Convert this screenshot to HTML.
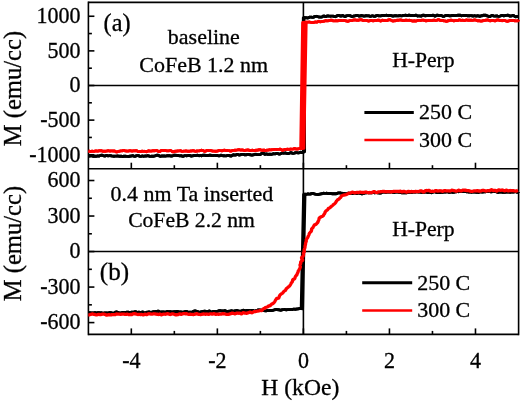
<!DOCTYPE html>
<html><head><meta charset="utf-8"><title>M-H loops</title>
<style>
html,body{margin:0;padding:0;background:#fff;}
body{width:520px;height:401px;overflow:hidden;}
svg{display:block;filter:blur(0.3px);}
text{font-family:"Liberation Serif","Times New Roman",serif;fill:#000;stroke:#000;stroke-width:0.3px;}
</style></head>
<body>
<svg width="520" height="401" viewBox="0 0 520 401">
<rect width="520" height="401" fill="#fff"/>
<g id="axes">
<line x1="88.40" y1="2.40" x2="518.60" y2="2.40" stroke="#000" stroke-width="1.6"/>
<line x1="88.40" y1="168.70" x2="518.60" y2="168.70" stroke="#000" stroke-width="1.6"/>
<line x1="88.40" y1="334.40" x2="518.60" y2="334.40" stroke="#000" stroke-width="1.6"/>
<line x1="88.40" y1="1.60" x2="88.40" y2="335.20" stroke="#000" stroke-width="1.6"/>
<line x1="518.60" y1="1.60" x2="518.60" y2="335.20" stroke="#000" stroke-width="1.6"/>
<line x1="88.40" y1="85.50" x2="518.60" y2="85.50" stroke="#000" stroke-width="1.6"/>
<line x1="88.40" y1="251.55" x2="518.60" y2="251.55" stroke="#000" stroke-width="1.6"/>
<line x1="303.40" y1="2.40" x2="303.40" y2="334.40" stroke="#000" stroke-width="1.6"/>
<line x1="131.32" y1="168.70" x2="131.32" y2="162.70" stroke="#000" stroke-width="1.6"/>
<line x1="131.32" y1="334.40" x2="131.32" y2="328.40" stroke="#000" stroke-width="1.6"/>
<line x1="174.34" y1="168.70" x2="174.34" y2="165.20" stroke="#000" stroke-width="1.6"/>
<line x1="174.34" y1="334.40" x2="174.34" y2="330.90" stroke="#000" stroke-width="1.6"/>
<line x1="217.36" y1="168.70" x2="217.36" y2="162.70" stroke="#000" stroke-width="1.6"/>
<line x1="217.36" y1="334.40" x2="217.36" y2="328.40" stroke="#000" stroke-width="1.6"/>
<line x1="260.38" y1="168.70" x2="260.38" y2="165.20" stroke="#000" stroke-width="1.6"/>
<line x1="260.38" y1="334.40" x2="260.38" y2="330.90" stroke="#000" stroke-width="1.6"/>
<line x1="303.40" y1="168.70" x2="303.40" y2="162.70" stroke="#000" stroke-width="1.6"/>
<line x1="303.40" y1="334.40" x2="303.40" y2="328.40" stroke="#000" stroke-width="1.6"/>
<line x1="346.42" y1="168.70" x2="346.42" y2="165.20" stroke="#000" stroke-width="1.6"/>
<line x1="346.42" y1="334.40" x2="346.42" y2="330.90" stroke="#000" stroke-width="1.6"/>
<line x1="389.44" y1="168.70" x2="389.44" y2="162.70" stroke="#000" stroke-width="1.6"/>
<line x1="389.44" y1="334.40" x2="389.44" y2="328.40" stroke="#000" stroke-width="1.6"/>
<line x1="432.46" y1="168.70" x2="432.46" y2="165.20" stroke="#000" stroke-width="1.6"/>
<line x1="432.46" y1="334.40" x2="432.46" y2="330.90" stroke="#000" stroke-width="1.6"/>
<line x1="475.48" y1="168.70" x2="475.48" y2="162.70" stroke="#000" stroke-width="1.6"/>
<line x1="475.48" y1="334.40" x2="475.48" y2="328.40" stroke="#000" stroke-width="1.6"/>
<line x1="88.40" y1="154.75" x2="94.40" y2="154.75" stroke="#000" stroke-width="1.6"/>
<line x1="88.40" y1="137.44" x2="91.90" y2="137.44" stroke="#000" stroke-width="1.6"/>
<line x1="88.40" y1="120.12" x2="94.40" y2="120.12" stroke="#000" stroke-width="1.6"/>
<line x1="88.40" y1="102.81" x2="91.90" y2="102.81" stroke="#000" stroke-width="1.6"/>
<line x1="88.40" y1="85.50" x2="94.40" y2="85.50" stroke="#000" stroke-width="1.6"/>
<line x1="88.40" y1="68.19" x2="91.90" y2="68.19" stroke="#000" stroke-width="1.6"/>
<line x1="88.40" y1="50.88" x2="94.40" y2="50.88" stroke="#000" stroke-width="1.6"/>
<line x1="88.40" y1="33.56" x2="91.90" y2="33.56" stroke="#000" stroke-width="1.6"/>
<line x1="88.40" y1="16.25" x2="94.40" y2="16.25" stroke="#000" stroke-width="1.6"/>
<line x1="88.40" y1="322.59" x2="94.40" y2="322.59" stroke="#000" stroke-width="1.6"/>
<line x1="88.40" y1="304.83" x2="91.90" y2="304.83" stroke="#000" stroke-width="1.6"/>
<line x1="88.40" y1="287.07" x2="94.40" y2="287.07" stroke="#000" stroke-width="1.6"/>
<line x1="88.40" y1="269.31" x2="91.90" y2="269.31" stroke="#000" stroke-width="1.6"/>
<line x1="88.40" y1="251.55" x2="94.40" y2="251.55" stroke="#000" stroke-width="1.6"/>
<line x1="88.40" y1="233.79" x2="91.90" y2="233.79" stroke="#000" stroke-width="1.6"/>
<line x1="88.40" y1="216.03" x2="94.40" y2="216.03" stroke="#000" stroke-width="1.6"/>
<line x1="88.40" y1="198.27" x2="91.90" y2="198.27" stroke="#000" stroke-width="1.6"/>
<line x1="88.40" y1="180.51" x2="94.40" y2="180.51" stroke="#000" stroke-width="1.6"/>
</g>
<g id="curves">
<polyline points="88.40,156.24 89.10,156.17 89.80,156.00 90.50,155.83 91.20,155.78 91.90,155.92 92.60,156.20 93.30,156.35 94.00,156.23 94.70,156.15 95.40,156.25 96.10,156.29 96.80,156.15 97.50,156.04 98.20,156.07 98.90,156.03 99.60,155.77 100.30,155.48 101.00,155.26 101.70,155.19 102.40,155.30 103.10,155.53 103.80,155.77 104.50,155.99 105.20,156.00 105.90,155.71 106.60,155.47 107.30,155.60 108.00,155.85 108.70,155.84 109.40,155.68 110.10,155.61 110.80,155.69 111.50,155.90 112.20,156.09 112.90,156.14 113.60,156.19 114.30,156.23 115.00,156.15 115.70,156.10 116.40,156.08 117.10,155.99 117.80,155.96 118.50,156.12 119.20,156.21 119.90,156.15 120.60,156.18 121.30,156.26 122.00,156.42 122.70,156.58 123.40,156.43 124.10,156.14 124.80,156.11 125.50,156.23 126.20,156.29 126.90,156.33 127.60,156.41 128.30,156.51 129.00,156.47 129.70,156.24 130.40,156.06 131.10,155.95 131.80,155.83 132.50,155.72 133.20,155.80 133.90,156.09 134.60,156.34 135.30,156.23 136.00,155.90 136.70,155.74 137.40,155.68 138.10,155.59 138.80,155.73 139.50,156.11 140.20,156.40 140.90,156.35 141.60,156.11 142.30,156.01 143.00,156.15 143.70,156.26 144.40,156.15 145.10,156.04 145.80,156.02 146.50,155.95 147.20,155.79 147.90,155.71 148.60,155.83 149.30,156.08 150.00,156.33 150.70,156.37 151.40,156.28 152.10,156.22 152.80,156.22 153.50,156.25 154.20,156.18 154.90,155.97 155.60,155.73 156.30,155.48 157.00,155.20 157.70,155.12 158.40,155.34 159.10,155.72 159.80,156.13 160.50,156.29 161.20,156.05 161.90,155.86 162.60,155.94 163.30,156.02 164.00,156.00 164.70,156.02 165.40,156.08 166.10,155.98 166.80,155.78 167.50,155.71 168.20,155.68 168.90,155.65 169.60,155.70 170.30,155.85 171.00,156.02 171.70,156.03 172.40,155.86 173.10,155.63 173.80,155.36 174.50,155.15 175.20,155.19 175.90,155.31 176.60,155.37 177.30,155.45 178.00,155.54 178.70,155.66 179.40,155.79 180.10,155.85 180.80,155.78 181.50,155.81 182.20,156.11 182.90,156.25 183.60,156.03 184.30,155.75 185.00,155.62 185.70,155.67 186.40,155.77 187.10,155.71 187.80,155.55 188.50,155.39 189.20,155.34 189.90,155.52 190.60,155.83 191.30,156.00 192.00,155.97 192.70,155.77 193.40,155.54 194.10,155.45 194.80,155.47 195.50,155.50 196.20,155.45 196.90,155.31 197.60,155.26 198.30,155.48 199.00,155.69 199.70,155.60 200.40,155.53 201.10,155.70 201.80,155.73 202.50,155.47 203.20,155.24 203.90,155.14 204.60,155.21 205.30,155.46 206.00,155.60 206.70,155.55 207.40,155.49 208.10,155.48 208.80,155.40 209.50,155.24 210.20,155.13 210.90,155.28 211.60,155.54 212.30,155.61 213.00,155.56 213.70,155.46 214.40,155.37 215.10,155.41 215.80,155.48 216.50,155.48 217.20,155.51 217.90,155.68 218.60,155.86 219.30,155.83 220.00,155.55 220.70,155.25 221.40,155.24 222.10,155.53 222.80,155.71 223.50,155.70 224.20,155.73 224.90,155.83 225.60,155.85 226.30,155.75 227.00,155.62 227.70,155.51 228.40,155.42 229.10,155.52 229.80,155.75 230.50,155.98 231.20,156.04 231.90,155.67 232.60,155.07 233.30,154.80 234.00,154.88 234.70,154.99 235.40,155.04 236.10,154.89 236.80,154.53 237.50,154.43 238.20,154.71 238.90,154.95 239.60,154.95 240.30,154.79 241.00,154.55 241.70,154.42 242.40,154.41 243.10,154.39 243.80,154.48 244.50,154.74 245.20,154.91 245.90,154.81 246.60,154.56 247.30,154.37 248.00,154.33 248.70,154.42 249.40,154.57 250.10,154.71 250.80,154.92 251.50,155.15 252.20,155.14 252.90,154.92 253.60,154.80 254.30,154.68 255.00,154.45 255.70,154.29 256.40,154.41 257.10,154.62 257.80,154.67 258.50,154.63 259.20,154.66 259.90,154.61 260.60,154.23 261.30,153.74 262.00,153.39 262.70,153.13 263.40,153.20 264.10,153.77 264.80,154.26 265.50,154.22 266.20,153.97 266.90,154.02 267.60,154.27 268.30,154.33 269.00,154.23 269.70,154.17 270.40,154.24 271.10,154.32 271.80,154.24 272.50,154.00 273.20,153.81 273.90,153.79 274.60,153.83 275.30,153.76 276.00,153.59 276.70,153.50 277.40,153.51 278.10,153.71 278.80,154.04 279.50,154.12 280.20,153.91 280.90,153.64 281.60,153.27 282.30,152.97 283.00,153.04 283.70,153.19 284.40,153.13 285.10,153.00 285.80,153.05 286.50,153.28 287.20,153.46 287.90,153.47 288.60,153.43 289.30,153.31 290.00,152.98 290.70,152.67 291.40,152.74 292.10,153.15 292.80,153.42 293.50,153.38 294.20,153.18 294.90,152.95 295.60,152.75 296.30,152.62 297.00,152.63 297.70,152.81 298.40,152.95 299.10,152.81 299.80,152.48 300.50,152.28 301.20,152.39 301.90,152.61 302.60,152.56 303.30,152.25 303.30,17.76 303.80,17.60 304.50,17.56 305.20,17.67 305.90,17.77 306.60,17.82 307.30,17.93 308.00,17.89 308.70,17.58 309.40,17.30 310.10,17.18 310.80,17.08 311.50,17.09 312.20,17.32 312.90,17.42 313.60,17.13 314.30,16.74 315.00,16.53 315.70,16.41 316.40,16.32 317.10,16.41 317.80,16.64 318.50,16.82 319.20,17.03 319.90,17.15 320.60,17.09 321.30,17.06 322.00,16.94 322.70,16.54 323.40,16.11 324.10,16.03 324.80,16.35 325.50,16.65 326.20,16.51 326.90,16.08 327.60,15.85 328.30,15.92 329.00,16.07 329.70,16.16 330.40,16.20 331.10,16.17 331.80,16.11 332.50,16.10 333.20,16.16 333.90,16.31 334.60,16.56 335.30,16.70 336.00,16.47 336.70,16.02 337.40,15.66 338.10,15.48 338.80,15.38 339.50,15.57 340.20,15.99 340.90,16.12 341.60,15.83 342.30,15.55 343.00,15.59 343.70,15.94 344.40,16.40 345.10,16.59 345.80,16.27 346.50,15.79 347.20,15.59 347.90,15.64 348.60,15.66 349.30,15.63 350.00,15.68 350.70,15.91 351.40,16.28 352.10,16.50 352.80,16.41 353.50,16.18 354.20,16.02 354.90,15.89 355.60,15.71 356.30,15.50 357.00,15.35 357.70,15.47 358.40,15.79 359.10,16.00 359.80,16.03 360.50,15.86 361.20,15.57 361.90,15.55 362.60,15.78 363.30,15.97 364.00,16.06 364.70,16.06 365.40,15.85 366.10,15.59 366.80,15.63 367.50,15.84 368.20,15.83 368.90,15.82 369.60,16.10 370.30,16.34 371.00,16.27 371.70,15.97 372.40,15.78 373.10,15.98 373.80,16.32 374.50,16.41 375.20,16.23 375.90,15.91 376.60,15.59 377.30,15.44 378.00,15.59 378.70,15.78 379.40,15.87 380.10,15.93 380.80,15.83 381.50,15.59 382.20,15.49 382.90,15.54 383.60,15.56 384.30,15.50 385.00,15.41 385.70,15.34 386.40,15.27 387.10,15.35 387.80,15.59 388.50,15.68 389.20,15.54 389.90,15.46 390.60,15.47 391.30,15.59 392.00,15.81 392.70,15.98 393.40,16.02 394.10,15.90 394.80,15.78 395.50,15.70 396.20,15.71 396.90,15.82 397.60,15.91 398.30,15.88 399.00,15.71 399.70,15.57 400.40,15.66 401.10,15.84 401.80,15.85 402.50,15.65 403.20,15.43 403.90,15.37 404.60,15.37 405.30,15.25 406.00,15.25 406.70,15.51 407.40,15.61 408.10,15.36 408.80,15.16 409.50,15.18 410.20,15.33 410.90,15.47 411.60,15.50 412.30,15.56 413.00,15.66 413.70,15.67 414.40,15.55 415.10,15.31 415.80,15.16 416.50,15.40 417.20,15.81 417.90,15.96 418.60,15.90 419.30,15.88 420.00,15.96 420.70,16.08 421.40,15.99 422.10,15.54 422.80,15.12 423.50,15.08 424.20,15.37 424.90,15.74 425.60,15.78 426.30,15.50 427.00,15.36 427.70,15.50 428.40,15.53 429.10,15.36 429.80,15.40 430.50,15.59 431.20,15.66 431.90,15.51 432.60,15.31 433.30,15.27 434.00,15.57 434.70,15.98 435.40,16.02 436.10,15.65 436.80,15.25 437.50,15.12 438.20,15.32 438.90,15.58 439.60,15.65 440.30,15.57 441.00,15.52 441.70,15.69 442.40,16.05 443.10,16.39 443.80,16.40 444.50,16.03 445.20,15.67 445.90,15.53 446.60,15.47 447.30,15.45 448.00,15.49 448.70,15.60 449.40,15.76 450.10,15.85 450.80,15.80 451.50,15.63 452.20,15.45 452.90,15.39 453.60,15.47 454.30,15.61 455.00,15.67 455.70,15.58 456.40,15.43 457.10,15.34 457.80,15.29 458.50,15.27 459.20,15.22 459.90,15.25 460.60,15.48 461.30,15.69 462.00,15.69 462.70,15.58 463.40,15.47 464.10,15.43 464.80,15.47 465.50,15.54 466.20,15.55 466.90,15.57 467.60,15.70 468.30,15.79 469.00,15.77 469.70,15.72 470.40,15.64 471.10,15.61 471.80,15.76 472.50,15.95 473.20,15.99 473.90,15.89 474.60,15.78 475.30,15.84 476.00,16.00 476.70,15.99 477.40,15.80 478.10,15.73 478.80,16.01 479.50,16.31 480.20,16.27 480.90,15.95 481.60,15.73 482.30,15.68 483.00,15.48 483.70,15.24 484.40,15.20 485.10,15.18 485.80,15.27 486.50,15.62 487.20,15.96 487.90,16.12 488.60,16.34 489.30,16.60 490.00,16.53 490.70,16.12 491.40,15.68 492.10,15.48 492.80,15.60 493.50,15.89 494.20,16.08 494.90,16.13 495.60,16.06 496.30,15.94 497.00,16.00 497.70,16.21 498.40,16.37 499.10,16.37 499.80,16.19 500.50,15.97 501.20,15.73 501.90,15.49 502.60,15.48 503.30,15.73 504.00,15.86 504.70,15.70 505.40,15.48 506.10,15.41 506.80,15.36 507.50,15.21 508.20,15.23 508.90,15.60 509.60,16.00 510.30,16.06 511.00,15.95 511.70,15.86 512.40,15.65 513.10,15.45 513.80,15.68 514.50,16.16 515.20,16.56 515.90,16.75 516.60,16.68 517.30,16.48 518.00,16.39 518.60,16.43" fill="none" stroke="#000" stroke-width="2.9" stroke-linejoin="round" stroke-linecap="butt"/>
<polyline points="88.40,156.24 89.10,156.17 89.80,156.00 90.50,155.83 91.20,155.78 91.90,155.92 92.60,156.20 93.30,156.35 94.00,156.23 94.70,156.15 95.40,156.25 96.10,156.29 96.80,156.15 97.50,156.04 98.20,156.07 98.90,156.03 99.60,155.77 100.30,155.48 101.00,155.26 101.70,155.19 102.40,155.30 103.10,155.53 103.80,155.77 104.50,155.99 105.20,156.00 105.90,155.71 106.60,155.47 107.30,155.60 108.00,155.85 108.70,155.84 109.40,155.68 110.10,155.61 110.80,155.69 111.50,155.90 112.20,156.09 112.90,156.14 113.60,156.19 114.30,156.23 115.00,156.15 115.70,156.10 116.40,156.08 117.10,155.99 117.80,155.96 118.50,156.12 119.20,156.21 119.90,156.15 120.60,156.18 121.30,156.26 122.00,156.42 122.70,156.58 123.40,156.43 124.10,156.14 124.80,156.11 125.50,156.23 126.20,156.29 126.90,156.33 127.60,156.41 128.30,156.51 129.00,156.47 129.70,156.24 130.40,156.06 131.10,155.95 131.80,155.83 132.50,155.72 133.20,155.80 133.90,156.09 134.60,156.34 135.30,156.23 136.00,155.90 136.70,155.74 137.40,155.68 138.10,155.59 138.80,155.73 139.50,156.11 140.20,156.40 140.90,156.35 141.60,156.11 142.30,156.01 143.00,156.15 143.70,156.26 144.40,156.15 145.10,156.04 145.80,156.02 146.50,155.95 147.20,155.79 147.90,155.71 148.60,155.83 149.30,156.08 150.00,156.33 150.70,156.37 151.40,156.28 152.10,156.22 152.80,156.22 153.50,156.25 154.20,156.18 154.90,155.97 155.60,155.73 156.30,155.48 157.00,155.20 157.70,155.12 158.40,155.34 159.10,155.72 159.80,156.13 160.50,156.29 161.20,156.05 161.90,155.86 162.60,155.94 163.30,156.02 164.00,156.00 164.70,156.02 165.40,156.08 166.10,155.98 166.80,155.78 167.50,155.71 168.20,155.68 168.90,155.65 169.60,155.70 170.30,155.85 171.00,156.02 171.70,156.03 172.40,155.86 173.10,155.63 173.80,155.36 174.50,155.15 175.20,155.19 175.90,155.31 176.60,155.37 177.30,155.45 178.00,155.54 178.70,155.66 179.40,155.79 180.10,155.85 180.80,155.78 181.50,155.81 182.20,156.11 182.90,156.25 183.60,156.03 184.30,155.75 185.00,155.62 185.70,155.67 186.40,155.77 187.10,155.71 187.80,155.55 188.50,155.39 189.20,155.34 189.90,155.52 190.60,155.83 191.30,156.00 192.00,155.97 192.70,155.77 193.40,155.54 194.10,155.45 194.80,155.47 195.50,155.50 196.20,155.45 196.90,155.31 197.60,155.26 198.30,155.48 199.00,155.69 199.70,155.60 200.40,155.53 201.10,155.70 201.80,155.73 202.50,155.47 203.20,155.24 203.90,155.14 204.60,155.21 205.30,155.46 206.00,155.60 206.70,155.55 207.40,155.49 208.10,155.48 208.80,155.40 209.50,155.24 210.20,155.13 210.90,155.28 211.60,155.54 212.30,155.61 213.00,155.56 213.70,155.46 214.40,155.37 215.10,155.41 215.80,155.48 216.50,155.48 217.20,155.51 217.90,155.68 218.60,155.86 219.30,155.83 220.00,155.55 220.70,155.25 221.40,155.24 222.10,155.53 222.80,155.71 223.50,155.70 224.20,155.73 224.90,155.83 225.60,155.85 226.30,155.75 227.00,155.62 227.70,155.51 228.40,155.42 229.10,155.52 229.80,155.75 230.50,155.98 231.20,156.04 231.90,155.67 232.60,155.07 233.30,154.80 234.00,154.88 234.70,154.99 235.40,155.04 236.10,154.89 236.80,154.53 237.50,154.43 238.20,154.71 238.90,154.95 239.60,154.95 240.30,154.79 241.00,154.55 241.70,154.42 242.40,154.41 243.10,154.39 243.80,154.48 244.50,154.74 245.20,154.91 245.90,154.81 246.60,154.56 247.30,154.37 248.00,154.33 248.70,154.42 249.40,154.57 250.10,154.71 250.80,154.92 251.50,155.15 252.20,155.14 252.90,154.92 253.60,154.80 254.30,154.68 255.00,154.45 255.70,154.29 256.40,154.41 257.10,154.62 257.80,154.67 258.50,154.63 259.20,154.66 259.90,154.61 260.60,154.23 261.30,153.74 262.00,153.39 262.70,153.13 263.40,153.20 264.10,153.77 264.80,154.26 265.50,154.22 266.20,153.97 266.90,154.02 267.60,154.27 268.30,154.33 269.00,154.23 269.70,154.17 270.40,154.24 271.10,154.32 271.80,154.24 272.50,154.00 273.20,153.81 273.90,153.79 274.60,153.83 275.30,153.76 276.00,153.59 276.70,153.50 277.40,153.51 278.10,153.71 278.80,154.04 279.50,154.12 280.20,153.91 280.90,153.64 281.60,153.27 282.30,152.97 283.00,153.04 283.70,153.19 284.40,153.13 285.10,153.00 285.80,153.05 286.50,153.28 287.20,153.46 287.90,153.47 288.60,153.43 289.30,153.31 290.00,152.98 290.70,152.67 291.40,152.74 292.10,153.15 292.80,153.42 293.50,153.38 294.20,153.18 294.90,152.95 295.60,152.75 296.30,152.62 297.00,152.63 297.70,152.81 298.40,152.95 299.10,152.81 299.80,152.48 300.50,152.28 301.20,152.39 301.90,152.61 302.60,152.56 303.30,152.25 304.00,151.93 304.60,151.84 304.00,17.59 304.50,17.56 305.20,17.67 305.90,17.77 306.60,17.82 307.30,17.93 308.00,17.89 308.70,17.58 309.40,17.30 310.10,17.18 310.80,17.08 311.50,17.09 312.20,17.32 312.90,17.42 313.60,17.13 314.30,16.74 315.00,16.53 315.70,16.41 316.40,16.32 317.10,16.41 317.80,16.64 318.50,16.82 319.20,17.03 319.90,17.15 320.60,17.09 321.30,17.06 322.00,16.94 322.70,16.54 323.40,16.11 324.10,16.03 324.80,16.35 325.50,16.65 326.20,16.51 326.90,16.08 327.60,15.85 328.30,15.92 329.00,16.07 329.70,16.16 330.40,16.20 331.10,16.17 331.80,16.11 332.50,16.10 333.20,16.16 333.90,16.31 334.60,16.56 335.30,16.70 336.00,16.47 336.70,16.02 337.40,15.66 338.10,15.48 338.80,15.38 339.50,15.57 340.20,15.99 340.90,16.12 341.60,15.83 342.30,15.55 343.00,15.59 343.70,15.94 344.40,16.40 345.10,16.59 345.80,16.27 346.50,15.79 347.20,15.59 347.90,15.64 348.60,15.66 349.30,15.63 350.00,15.68 350.70,15.91 351.40,16.28 352.10,16.50 352.80,16.41 353.50,16.18 354.20,16.02 354.90,15.89 355.60,15.71 356.30,15.50 357.00,15.35 357.70,15.47 358.40,15.79 359.10,16.00 359.80,16.03 360.50,15.86 361.20,15.57 361.90,15.55 362.60,15.78 363.30,15.97 364.00,16.06 364.70,16.06 365.40,15.85 366.10,15.59 366.80,15.63 367.50,15.84 368.20,15.83 368.90,15.82 369.60,16.10 370.30,16.34 371.00,16.27 371.70,15.97 372.40,15.78 373.10,15.98 373.80,16.32 374.50,16.41 375.20,16.23 375.90,15.91 376.60,15.59 377.30,15.44 378.00,15.59 378.70,15.78 379.40,15.87 380.10,15.93 380.80,15.83 381.50,15.59 382.20,15.49 382.90,15.54 383.60,15.56 384.30,15.50 385.00,15.41 385.70,15.34 386.40,15.27 387.10,15.35 387.80,15.59 388.50,15.68 389.20,15.54 389.90,15.46 390.60,15.47 391.30,15.59 392.00,15.81 392.70,15.98 393.40,16.02 394.10,15.90 394.80,15.78 395.50,15.70 396.20,15.71 396.90,15.82 397.60,15.91 398.30,15.88 399.00,15.71 399.70,15.57 400.40,15.66 401.10,15.84 401.80,15.85 402.50,15.65 403.20,15.43 403.90,15.37 404.60,15.37 405.30,15.25 406.00,15.25 406.70,15.51 407.40,15.61 408.10,15.36 408.80,15.16 409.50,15.18 410.20,15.33 410.90,15.47 411.60,15.50 412.30,15.56 413.00,15.66 413.70,15.67 414.40,15.55 415.10,15.31 415.80,15.16 416.50,15.40 417.20,15.81 417.90,15.96 418.60,15.90 419.30,15.88 420.00,15.96 420.70,16.08 421.40,15.99 422.10,15.54 422.80,15.12 423.50,15.08 424.20,15.37 424.90,15.74 425.60,15.78 426.30,15.50 427.00,15.36 427.70,15.50 428.40,15.53 429.10,15.36 429.80,15.40 430.50,15.59 431.20,15.66 431.90,15.51 432.60,15.31 433.30,15.27 434.00,15.57 434.70,15.98 435.40,16.02 436.10,15.65 436.80,15.25 437.50,15.12 438.20,15.32 438.90,15.58 439.60,15.65 440.30,15.57 441.00,15.52 441.70,15.69 442.40,16.05 443.10,16.39 443.80,16.40 444.50,16.03 445.20,15.67 445.90,15.53 446.60,15.47 447.30,15.45 448.00,15.49 448.70,15.60 449.40,15.76 450.10,15.85 450.80,15.80 451.50,15.63 452.20,15.45 452.90,15.39 453.60,15.47 454.30,15.61 455.00,15.67 455.70,15.58 456.40,15.43 457.10,15.34 457.80,15.29 458.50,15.27 459.20,15.22 459.90,15.25 460.60,15.48 461.30,15.69 462.00,15.69 462.70,15.58 463.40,15.47 464.10,15.43 464.80,15.47 465.50,15.54 466.20,15.55 466.90,15.57 467.60,15.70 468.30,15.79 469.00,15.77 469.70,15.72 470.40,15.64 471.10,15.61 471.80,15.76 472.50,15.95 473.20,15.99 473.90,15.89 474.60,15.78 475.30,15.84 476.00,16.00 476.70,15.99 477.40,15.80 478.10,15.73 478.80,16.01 479.50,16.31 480.20,16.27 480.90,15.95 481.60,15.73 482.30,15.68 483.00,15.48 483.70,15.24 484.40,15.20 485.10,15.18 485.80,15.27 486.50,15.62 487.20,15.96 487.90,16.12 488.60,16.34 489.30,16.60 490.00,16.53 490.70,16.12 491.40,15.68 492.10,15.48 492.80,15.60 493.50,15.89 494.20,16.08 494.90,16.13 495.60,16.06 496.30,15.94 497.00,16.00 497.70,16.21 498.40,16.37 499.10,16.37 499.80,16.19 500.50,15.97 501.20,15.73 501.90,15.49 502.60,15.48 503.30,15.73 504.00,15.86 504.70,15.70 505.40,15.48 506.10,15.41 506.80,15.36 507.50,15.21 508.20,15.23 508.90,15.60 509.60,16.00 510.30,16.06 511.00,15.95 511.70,15.86 512.40,15.65 513.10,15.45 513.80,15.68 514.50,16.16 515.20,16.56 515.90,16.75 516.60,16.68 517.30,16.48 518.00,16.39 518.60,16.43" fill="none" stroke="#000" stroke-width="2.9" stroke-linejoin="round" stroke-linecap="butt"/>
<polyline points="88.40,150.87 89.10,151.12 89.80,151.43 90.50,151.52 91.20,151.32 91.90,151.18 92.60,151.26 93.30,151.37 94.00,151.37 94.70,151.22 95.40,151.00 96.10,150.92 96.80,151.05 97.50,151.19 98.20,151.05 98.90,150.75 99.60,150.65 100.30,150.70 101.00,150.68 101.70,150.77 102.40,151.06 103.10,151.23 103.80,151.20 104.50,151.16 105.20,151.19 105.90,151.19 106.60,151.07 107.30,150.85 108.00,150.74 108.70,150.81 109.40,150.94 110.10,151.03 110.80,150.98 111.50,150.87 112.20,150.89 112.90,150.99 113.60,151.03 114.30,151.01 115.00,151.17 115.70,151.60 116.40,151.93 117.10,151.85 117.80,151.55 118.50,151.39 119.20,151.31 119.90,151.08 120.60,150.89 121.30,150.89 122.00,150.84 122.70,150.57 123.40,150.37 124.10,150.47 124.80,150.71 125.50,150.84 126.20,150.94 126.90,151.07 127.60,151.12 128.30,151.05 129.00,150.93 129.70,150.78 130.40,150.72 131.10,150.85 131.80,151.01 132.50,150.97 133.20,150.83 133.90,150.81 134.60,150.87 135.30,150.80 136.00,150.60 136.70,150.66 137.40,151.12 138.10,151.55 138.80,151.59 139.50,151.46 140.20,151.50 140.90,151.50 141.60,151.31 142.30,151.21 143.00,151.31 143.70,151.36 144.40,151.32 145.10,151.41 145.80,151.66 146.50,151.73 147.20,151.47 147.90,151.07 148.60,150.81 149.30,150.88 150.00,151.05 150.70,151.15 151.40,151.07 152.10,150.81 152.80,150.65 153.50,150.68 154.20,150.72 154.90,150.70 155.60,150.63 156.30,150.54 157.00,150.63 157.70,151.00 158.40,151.38 159.10,151.59 159.80,151.50 160.50,151.03 161.20,150.54 161.90,150.36 162.60,150.43 163.30,150.56 164.00,150.58 164.70,150.53 165.40,150.56 166.10,150.66 166.80,150.80 167.50,150.89 168.20,150.87 168.90,150.81 169.60,150.68 170.30,150.55 171.00,150.64 171.70,151.10 172.40,151.66 173.10,151.90 173.80,151.75 174.50,151.44 175.20,151.26 175.90,151.24 176.60,151.15 177.30,151.00 178.00,150.93 178.70,150.89 179.40,150.84 180.10,150.76 180.80,150.80 181.50,151.09 182.20,151.35 182.90,151.29 183.60,151.16 184.30,151.14 185.00,151.05 185.70,150.92 186.40,150.99 187.10,151.17 187.80,151.27 188.50,151.31 189.20,151.27 189.90,151.10 190.60,150.98 191.30,150.99 192.00,150.91 192.70,150.66 193.40,150.60 194.10,150.84 194.80,151.16 195.50,151.32 196.20,151.22 196.90,151.00 197.60,150.93 198.30,150.90 199.00,150.85 199.70,150.75 200.40,150.50 201.10,150.30 201.80,150.31 202.50,150.43 203.20,150.67 203.90,151.01 204.60,151.26 205.30,151.25 206.00,150.91 206.70,150.53 207.40,150.38 208.10,150.40 208.80,150.52 209.50,150.60 210.20,150.53 210.90,150.53 211.60,150.75 212.30,150.95 213.00,151.03 213.70,151.08 214.40,151.13 215.10,151.20 215.80,151.26 216.50,151.21 217.20,151.05 217.90,150.79 218.60,150.57 219.30,150.56 220.00,150.63 220.70,150.67 221.40,150.75 222.10,150.86 222.80,150.69 223.50,150.32 224.20,150.17 224.90,150.30 225.60,150.45 226.30,150.49 227.00,150.52 227.70,150.56 228.40,150.58 229.10,150.62 229.80,150.81 230.50,151.12 231.20,151.11 231.90,150.71 232.60,150.38 233.30,150.35 234.00,150.36 234.70,150.28 235.40,150.22 236.10,150.18 236.80,150.06 237.50,149.93 238.20,149.78 238.90,149.64 239.60,149.73 240.30,150.00 241.00,150.16 241.70,150.06 242.40,149.96 243.10,150.14 243.80,150.42 244.50,150.48 245.20,150.32 245.90,150.20 246.60,150.14 247.30,150.00 248.00,149.91 248.70,150.12 249.40,150.44 250.10,150.58 250.80,150.52 251.50,150.39 252.20,150.29 252.90,150.27 253.60,150.47 254.30,150.69 255.00,150.56 255.70,150.25 256.40,150.16 257.10,150.24 257.80,150.18 258.50,149.85 259.20,149.60 259.90,149.69 260.60,149.94 261.30,150.18 262.00,150.31 262.70,150.27 263.40,150.10 264.10,150.05 264.80,150.29 265.50,150.50 266.20,150.40 266.90,150.20 267.60,150.14 268.30,150.05 269.00,149.85 269.70,149.77 270.40,149.85 271.10,149.85 271.80,149.74 272.50,149.65 273.20,149.60 273.90,149.52 274.60,149.40 275.30,149.34 276.00,149.43 276.70,149.48 277.40,149.40 278.10,149.36 278.80,149.35 279.50,149.26 280.20,149.24 280.90,149.44 281.60,149.88 282.30,150.23 283.00,150.13 283.70,149.79 284.40,149.55 285.10,149.46 285.80,149.46 286.50,149.40 287.20,149.29 287.90,149.31 288.60,149.41 289.30,149.41 290.00,149.24 290.70,149.07 291.40,149.10 292.10,149.17 292.80,149.11 293.50,148.90 294.20,148.61 294.90,148.55 295.60,148.82 296.30,149.03 297.00,149.02 297.70,148.98 298.40,148.88 299.10,148.67 299.80,148.55 300.50,148.61 300.70,148.62 302.60,22.55 302.80,22.53 303.50,22.47 304.20,22.38 304.90,22.31 305.60,22.23 306.30,22.12 307.00,22.10 307.70,22.13 308.40,22.11 309.10,22.06 309.80,22.16 310.50,22.33 311.20,22.43 311.90,22.50 312.60,22.55 313.30,22.55 314.00,22.41 314.70,22.14 315.40,22.00 316.10,22.09 316.80,22.18 317.50,21.91 318.20,21.43 318.90,21.31 319.60,21.55 320.30,21.73 321.00,21.68 321.70,21.56 322.40,21.48 323.10,21.42 323.80,21.28 324.50,21.01 325.20,20.75 325.90,20.71 326.60,20.79 327.30,20.83 328.00,20.72 328.70,20.58 329.40,20.46 330.10,20.29 330.80,20.12 331.50,20.16 332.20,20.45 332.90,20.76 333.60,20.90 334.30,20.89 335.00,20.85 335.70,20.77 336.40,20.76 337.10,20.83 337.80,20.82 338.50,20.65 339.20,20.52 339.90,20.48 340.60,20.48 341.30,20.53 342.00,20.62 342.70,20.62 343.40,20.55 344.10,20.53 344.80,20.60 345.50,20.71 346.20,20.87 346.90,21.09 347.60,21.21 348.30,21.18 349.00,20.94 349.70,20.62 350.40,20.51 351.10,20.57 351.80,20.58 352.50,20.45 353.20,20.21 353.90,20.00 354.60,19.92 355.30,19.98 356.00,20.13 356.70,20.22 357.40,20.26 358.10,20.31 358.80,20.21 359.50,19.94 360.20,19.72 360.90,19.67 361.60,19.80 362.30,20.15 363.00,20.47 363.70,20.50 364.40,20.40 365.10,20.33 365.80,20.37 366.50,20.48 367.20,20.64 367.90,20.88 368.60,20.99 369.30,20.82 370.00,20.56 370.70,20.45 371.40,20.52 372.10,20.64 372.80,20.74 373.50,20.77 374.20,20.61 374.90,20.37 375.60,20.36 376.30,20.47 377.00,20.40 377.70,20.24 378.40,20.17 379.10,20.30 379.80,20.72 380.50,21.05 381.20,20.88 381.90,20.44 382.60,20.24 383.30,20.36 384.00,20.46 384.70,20.41 385.40,20.46 386.10,20.65 386.80,20.64 387.50,20.35 388.20,20.00 388.90,19.81 389.60,19.79 390.30,19.94 391.00,20.24 391.70,20.54 392.40,20.85 393.10,21.05 393.80,20.92 394.50,20.71 395.20,20.71 395.90,20.66 396.60,20.40 397.30,20.18 398.00,20.14 398.70,20.19 399.40,20.15 400.10,19.97 400.80,19.94 401.50,20.15 402.20,20.38 402.90,20.51 403.60,20.57 404.30,20.56 405.00,20.40 405.70,20.18 406.40,20.15 407.10,20.28 407.80,20.39 408.50,20.37 409.20,20.30 409.90,20.38 410.60,20.56 411.30,20.67 412.00,20.84 412.70,21.11 413.40,21.06 414.10,20.81 414.80,20.89 415.50,21.12 416.20,21.04 416.90,20.73 417.60,20.46 418.30,20.33 419.00,20.33 419.70,20.41 420.40,20.47 421.10,20.37 421.80,20.20 422.50,20.12 423.20,20.16 423.90,20.28 424.60,20.49 425.30,20.72 426.00,20.80 426.70,20.76 427.40,20.67 428.10,20.57 428.80,20.49 429.50,20.49 430.20,20.52 430.90,20.56 431.60,20.61 432.30,20.51 433.00,20.31 433.70,20.21 434.40,20.25 435.10,20.35 435.80,20.44 436.50,20.39 437.20,20.09 437.90,19.77 438.60,19.71 439.30,19.92 440.00,20.32 440.70,20.62 441.40,20.55 442.10,20.36 442.80,20.47 443.50,20.75 444.20,20.85 444.90,20.92 445.60,21.17 446.30,21.35 447.00,21.22 447.70,20.93 448.40,20.73 449.10,20.56 449.80,20.33 450.50,20.19 451.20,20.20 451.90,20.27 452.60,20.47 453.30,20.76 454.00,20.85 454.70,20.65 455.40,20.48 456.10,20.54 456.80,20.67 457.50,20.64 458.20,20.36 458.90,20.04 459.60,19.93 460.30,20.10 461.00,20.34 461.70,20.36 462.40,20.27 463.10,20.31 463.80,20.44 464.50,20.46 465.20,20.31 465.90,20.08 466.60,19.96 467.30,20.10 468.00,20.24 468.70,20.17 469.40,20.19 470.10,20.30 470.80,20.30 471.50,20.28 472.20,20.33 472.90,20.34 473.60,20.19 474.30,20.03 475.00,20.05 475.70,20.15 476.40,20.31 477.10,20.56 477.80,20.74 478.50,20.77 479.20,20.77 479.90,20.91 480.60,21.09 481.30,21.14 482.00,20.99 482.70,20.74 483.40,20.58 484.10,20.46 484.80,20.33 485.50,20.27 486.20,20.21 486.90,20.05 487.60,19.94 488.30,20.10 489.00,20.45 489.70,20.75 490.40,20.79 491.10,20.60 491.80,20.41 492.50,20.36 493.20,20.46 493.90,20.64 494.60,20.84 495.30,20.85 496.00,20.50 496.70,20.08 497.40,19.86 498.10,19.90 498.80,20.18 499.50,20.47 500.20,20.48 500.90,20.43 501.60,20.59 502.30,20.69 503.00,20.52 503.70,20.35 504.40,20.41 505.10,20.64 505.80,20.89 506.50,21.09 507.20,21.20 507.90,21.20 508.60,21.04 509.30,20.68 510.00,20.36 510.70,20.33 511.40,20.46 512.10,20.55 512.80,20.56 513.50,20.49 514.20,20.55 514.90,20.77 515.60,20.88 516.30,20.89 517.00,20.91 517.70,20.77 518.40,20.30 518.60,19.78" fill="none" stroke="#f00" stroke-width="2.9" stroke-linejoin="round" stroke-linecap="butt"/>
<polyline points="88.40,150.87 89.10,151.12 89.80,151.43 90.50,151.52 91.20,151.32 91.90,151.18 92.60,151.26 93.30,151.37 94.00,151.37 94.70,151.22 95.40,151.00 96.10,150.92 96.80,151.05 97.50,151.19 98.20,151.05 98.90,150.75 99.60,150.65 100.30,150.70 101.00,150.68 101.70,150.77 102.40,151.06 103.10,151.23 103.80,151.20 104.50,151.16 105.20,151.19 105.90,151.19 106.60,151.07 107.30,150.85 108.00,150.74 108.70,150.81 109.40,150.94 110.10,151.03 110.80,150.98 111.50,150.87 112.20,150.89 112.90,150.99 113.60,151.03 114.30,151.01 115.00,151.17 115.70,151.60 116.40,151.93 117.10,151.85 117.80,151.55 118.50,151.39 119.20,151.31 119.90,151.08 120.60,150.89 121.30,150.89 122.00,150.84 122.70,150.57 123.40,150.37 124.10,150.47 124.80,150.71 125.50,150.84 126.20,150.94 126.90,151.07 127.60,151.12 128.30,151.05 129.00,150.93 129.70,150.78 130.40,150.72 131.10,150.85 131.80,151.01 132.50,150.97 133.20,150.83 133.90,150.81 134.60,150.87 135.30,150.80 136.00,150.60 136.70,150.66 137.40,151.12 138.10,151.55 138.80,151.59 139.50,151.46 140.20,151.50 140.90,151.50 141.60,151.31 142.30,151.21 143.00,151.31 143.70,151.36 144.40,151.32 145.10,151.41 145.80,151.66 146.50,151.73 147.20,151.47 147.90,151.07 148.60,150.81 149.30,150.88 150.00,151.05 150.70,151.15 151.40,151.07 152.10,150.81 152.80,150.65 153.50,150.68 154.20,150.72 154.90,150.70 155.60,150.63 156.30,150.54 157.00,150.63 157.70,151.00 158.40,151.38 159.10,151.59 159.80,151.50 160.50,151.03 161.20,150.54 161.90,150.36 162.60,150.43 163.30,150.56 164.00,150.58 164.70,150.53 165.40,150.56 166.10,150.66 166.80,150.80 167.50,150.89 168.20,150.87 168.90,150.81 169.60,150.68 170.30,150.55 171.00,150.64 171.70,151.10 172.40,151.66 173.10,151.90 173.80,151.75 174.50,151.44 175.20,151.26 175.90,151.24 176.60,151.15 177.30,151.00 178.00,150.93 178.70,150.89 179.40,150.84 180.10,150.76 180.80,150.80 181.50,151.09 182.20,151.35 182.90,151.29 183.60,151.16 184.30,151.14 185.00,151.05 185.70,150.92 186.40,150.99 187.10,151.17 187.80,151.27 188.50,151.31 189.20,151.27 189.90,151.10 190.60,150.98 191.30,150.99 192.00,150.91 192.70,150.66 193.40,150.60 194.10,150.84 194.80,151.16 195.50,151.32 196.20,151.22 196.90,151.00 197.60,150.93 198.30,150.90 199.00,150.85 199.70,150.75 200.40,150.50 201.10,150.30 201.80,150.31 202.50,150.43 203.20,150.67 203.90,151.01 204.60,151.26 205.30,151.25 206.00,150.91 206.70,150.53 207.40,150.38 208.10,150.40 208.80,150.52 209.50,150.60 210.20,150.53 210.90,150.53 211.60,150.75 212.30,150.95 213.00,151.03 213.70,151.08 214.40,151.13 215.10,151.20 215.80,151.26 216.50,151.21 217.20,151.05 217.90,150.79 218.60,150.57 219.30,150.56 220.00,150.63 220.70,150.67 221.40,150.75 222.10,150.86 222.80,150.69 223.50,150.32 224.20,150.17 224.90,150.30 225.60,150.45 226.30,150.49 227.00,150.52 227.70,150.56 228.40,150.58 229.10,150.62 229.80,150.81 230.50,151.12 231.20,151.11 231.90,150.71 232.60,150.38 233.30,150.35 234.00,150.36 234.70,150.28 235.40,150.22 236.10,150.18 236.80,150.06 237.50,149.93 238.20,149.78 238.90,149.64 239.60,149.73 240.30,150.00 241.00,150.16 241.70,150.06 242.40,149.96 243.10,150.14 243.80,150.42 244.50,150.48 245.20,150.32 245.90,150.20 246.60,150.14 247.30,150.00 248.00,149.91 248.70,150.12 249.40,150.44 250.10,150.58 250.80,150.52 251.50,150.39 252.20,150.29 252.90,150.27 253.60,150.47 254.30,150.69 255.00,150.56 255.70,150.25 256.40,150.16 257.10,150.24 257.80,150.18 258.50,149.85 259.20,149.60 259.90,149.69 260.60,149.94 261.30,150.18 262.00,150.31 262.70,150.27 263.40,150.10 264.10,150.05 264.80,150.29 265.50,150.50 266.20,150.40 266.90,150.20 267.60,150.14 268.30,150.05 269.00,149.85 269.70,149.77 270.40,149.85 271.10,149.85 271.80,149.74 272.50,149.65 273.20,149.60 273.90,149.52 274.60,149.40 275.30,149.34 276.00,149.43 276.70,149.48 277.40,149.40 278.10,149.36 278.80,149.35 279.50,149.26 280.20,149.24 280.90,149.44 281.60,149.88 282.30,150.23 283.00,150.13 283.70,149.79 284.40,149.55 285.10,149.46 285.80,149.46 286.50,149.40 287.20,149.29 287.90,149.31 288.60,149.41 289.30,149.41 290.00,149.24 290.70,149.07 291.40,149.10 292.10,149.17 292.80,149.11 293.50,148.90 294.20,148.61 294.90,148.55 295.60,148.82 296.30,149.03 297.00,149.02 297.70,148.98 298.40,148.88 299.10,148.67 299.80,148.55 300.50,148.61 301.20,148.66 301.90,148.59 302.60,148.52 303.30,148.41 303.90,148.39 306.20,22.14 306.30,22.12 307.00,22.10 307.70,22.13 308.40,22.11 309.10,22.06 309.80,22.16 310.50,22.33 311.20,22.43 311.90,22.50 312.60,22.55 313.30,22.55 314.00,22.41 314.70,22.14 315.40,22.00 316.10,22.09 316.80,22.18 317.50,21.91 318.20,21.43 318.90,21.31 319.60,21.55 320.30,21.73 321.00,21.68 321.70,21.56 322.40,21.48 323.10,21.42 323.80,21.28 324.50,21.01 325.20,20.75 325.90,20.71 326.60,20.79 327.30,20.83 328.00,20.72 328.70,20.58 329.40,20.46 330.10,20.29 330.80,20.12 331.50,20.16 332.20,20.45 332.90,20.76 333.60,20.90 334.30,20.89 335.00,20.85 335.70,20.77 336.40,20.76 337.10,20.83 337.80,20.82 338.50,20.65 339.20,20.52 339.90,20.48 340.60,20.48 341.30,20.53 342.00,20.62 342.70,20.62 343.40,20.55 344.10,20.53 344.80,20.60 345.50,20.71 346.20,20.87 346.90,21.09 347.60,21.21 348.30,21.18 349.00,20.94 349.70,20.62 350.40,20.51 351.10,20.57 351.80,20.58 352.50,20.45 353.20,20.21 353.90,20.00 354.60,19.92 355.30,19.98 356.00,20.13 356.70,20.22 357.40,20.26 358.10,20.31 358.80,20.21 359.50,19.94 360.20,19.72 360.90,19.67 361.60,19.80 362.30,20.15 363.00,20.47 363.70,20.50 364.40,20.40 365.10,20.33 365.80,20.37 366.50,20.48 367.20,20.64 367.90,20.88 368.60,20.99 369.30,20.82 370.00,20.56 370.70,20.45 371.40,20.52 372.10,20.64 372.80,20.74 373.50,20.77 374.20,20.61 374.90,20.37 375.60,20.36 376.30,20.47 377.00,20.40 377.70,20.24 378.40,20.17 379.10,20.30 379.80,20.72 380.50,21.05 381.20,20.88 381.90,20.44 382.60,20.24 383.30,20.36 384.00,20.46 384.70,20.41 385.40,20.46 386.10,20.65 386.80,20.64 387.50,20.35 388.20,20.00 388.90,19.81 389.60,19.79 390.30,19.94 391.00,20.24 391.70,20.54 392.40,20.85 393.10,21.05 393.80,20.92 394.50,20.71 395.20,20.71 395.90,20.66 396.60,20.40 397.30,20.18 398.00,20.14 398.70,20.19 399.40,20.15 400.10,19.97 400.80,19.94 401.50,20.15 402.20,20.38 402.90,20.51 403.60,20.57 404.30,20.56 405.00,20.40 405.70,20.18 406.40,20.15 407.10,20.28 407.80,20.39 408.50,20.37 409.20,20.30 409.90,20.38 410.60,20.56 411.30,20.67 412.00,20.84 412.70,21.11 413.40,21.06 414.10,20.81 414.80,20.89 415.50,21.12 416.20,21.04 416.90,20.73 417.60,20.46 418.30,20.33 419.00,20.33 419.70,20.41 420.40,20.47 421.10,20.37 421.80,20.20 422.50,20.12 423.20,20.16 423.90,20.28 424.60,20.49 425.30,20.72 426.00,20.80 426.70,20.76 427.40,20.67 428.10,20.57 428.80,20.49 429.50,20.49 430.20,20.52 430.90,20.56 431.60,20.61 432.30,20.51 433.00,20.31 433.70,20.21 434.40,20.25 435.10,20.35 435.80,20.44 436.50,20.39 437.20,20.09 437.90,19.77 438.60,19.71 439.30,19.92 440.00,20.32 440.70,20.62 441.40,20.55 442.10,20.36 442.80,20.47 443.50,20.75 444.20,20.85 444.90,20.92 445.60,21.17 446.30,21.35 447.00,21.22 447.70,20.93 448.40,20.73 449.10,20.56 449.80,20.33 450.50,20.19 451.20,20.20 451.90,20.27 452.60,20.47 453.30,20.76 454.00,20.85 454.70,20.65 455.40,20.48 456.10,20.54 456.80,20.67 457.50,20.64 458.20,20.36 458.90,20.04 459.60,19.93 460.30,20.10 461.00,20.34 461.70,20.36 462.40,20.27 463.10,20.31 463.80,20.44 464.50,20.46 465.20,20.31 465.90,20.08 466.60,19.96 467.30,20.10 468.00,20.24 468.70,20.17 469.40,20.19 470.10,20.30 470.80,20.30 471.50,20.28 472.20,20.33 472.90,20.34 473.60,20.19 474.30,20.03 475.00,20.05 475.70,20.15 476.40,20.31 477.10,20.56 477.80,20.74 478.50,20.77 479.20,20.77 479.90,20.91 480.60,21.09 481.30,21.14 482.00,20.99 482.70,20.74 483.40,20.58 484.10,20.46 484.80,20.33 485.50,20.27 486.20,20.21 486.90,20.05 487.60,19.94 488.30,20.10 489.00,20.45 489.70,20.75 490.40,20.79 491.10,20.60 491.80,20.41 492.50,20.36 493.20,20.46 493.90,20.64 494.60,20.84 495.30,20.85 496.00,20.50 496.70,20.08 497.40,19.86 498.10,19.90 498.80,20.18 499.50,20.47 500.20,20.48 500.90,20.43 501.60,20.59 502.30,20.69 503.00,20.52 503.70,20.35 504.40,20.41 505.10,20.64 505.80,20.89 506.50,21.09 507.20,21.20 507.90,21.20 508.60,21.04 509.30,20.68 510.00,20.36 510.70,20.33 511.40,20.46 512.10,20.55 512.80,20.56 513.50,20.49 514.20,20.55 514.90,20.77 515.60,20.88 516.30,20.89 517.00,20.91 517.70,20.77 518.40,20.30 518.60,19.78" fill="none" stroke="#f00" stroke-width="2.9" stroke-linejoin="round" stroke-linecap="butt"/>
<polyline points="302.30,147.50 304.40,23.00" fill="none" stroke="#f00" stroke-width="3.0" stroke-linejoin="round" stroke-linecap="butt"/>
<polyline points="88.40,312.63 89.10,312.65 89.80,312.76 90.50,312.97 91.20,313.05 91.90,312.94 92.60,312.94 93.30,313.01 94.00,312.87 94.70,312.71 95.40,312.77 96.10,312.84 96.80,312.84 97.50,312.80 98.20,312.68 98.90,312.64 99.60,312.76 100.30,312.83 101.00,312.81 101.70,312.89 102.40,313.11 103.10,313.25 103.80,313.15 104.50,313.00 105.20,312.88 105.90,312.86 106.60,312.98 107.30,313.11 108.00,313.06 108.70,312.81 109.40,312.57 110.10,312.55 110.80,312.74 111.50,312.96 112.20,313.06 112.90,313.09 113.60,313.09 114.30,312.95 115.00,312.54 115.70,312.10 116.40,311.95 117.10,312.16 117.80,312.47 118.50,312.65 119.20,312.82 119.90,312.99 120.60,313.04 121.30,312.87 122.00,312.60 122.70,312.43 123.40,312.38 124.10,312.35 124.80,312.35 125.50,312.43 126.20,312.41 126.90,312.22 127.60,312.11 128.30,312.18 129.00,312.34 129.70,312.47 130.40,312.44 131.10,312.30 131.80,312.21 132.50,312.25 133.20,312.30 133.90,312.22 134.60,311.95 135.30,311.70 136.00,311.84 136.70,312.26 137.40,312.53 138.10,312.46 138.80,312.25 139.50,312.26 140.20,312.53 140.90,312.64 141.60,312.38 142.30,312.06 143.00,312.08 143.70,312.51 144.40,312.88 145.10,312.87 145.80,312.65 146.50,312.38 147.20,312.19 147.90,312.09 148.60,311.99 149.30,312.02 150.00,312.21 150.70,312.34 151.40,312.29 152.10,312.08 152.80,311.81 153.50,311.68 154.20,311.67 154.90,311.59 155.60,311.45 156.30,311.39 157.00,311.34 157.70,311.25 158.40,311.24 159.10,311.46 159.80,311.87 160.50,312.21 161.20,312.20 161.90,311.94 162.60,311.85 163.30,311.97 164.00,312.04 164.70,312.11 165.40,312.13 166.10,311.88 166.80,311.58 167.50,311.56 168.20,311.72 168.90,311.72 169.60,311.59 170.30,311.64 171.00,311.86 171.70,311.97 172.40,311.96 173.10,311.94 173.80,311.79 174.50,311.60 175.20,311.60 175.90,311.63 176.60,311.47 177.30,311.38 178.00,311.63 178.70,311.97 179.40,312.03 180.10,311.96 180.80,312.01 181.50,312.06 182.20,312.17 182.90,312.27 183.60,312.16 184.30,311.88 185.00,311.66 185.70,311.55 186.40,311.45 187.10,311.62 187.80,312.10 188.50,312.37 189.20,312.27 189.90,312.15 190.60,312.27 191.30,312.40 192.00,312.23 192.70,311.80 193.40,311.39 194.10,311.10 194.80,310.91 195.50,310.96 196.20,311.17 196.90,311.35 197.60,311.54 198.30,311.86 199.00,312.15 199.70,312.17 200.40,311.99 201.10,311.78 201.80,311.59 202.50,311.51 203.20,311.46 203.90,311.30 204.60,311.18 205.30,311.26 206.00,311.52 206.70,311.67 207.40,311.54 208.10,311.31 208.80,311.09 209.50,311.03 210.20,311.32 210.90,311.83 211.60,312.05 212.30,311.82 213.00,311.53 213.70,311.46 214.40,311.50 215.10,311.55 215.80,311.56 216.50,311.51 217.20,311.38 217.90,311.14 218.60,310.88 219.30,310.72 220.00,310.69 220.70,310.75 221.40,310.84 222.10,310.95 222.80,311.05 223.50,310.99 224.20,310.80 224.90,310.74 225.60,310.97 226.30,311.37 227.00,311.61 227.70,311.54 228.40,311.36 229.10,311.22 229.80,311.10 230.50,310.99 231.20,310.79 231.90,310.86 232.60,311.27 233.30,311.37 234.00,311.09 234.70,310.89 235.40,310.81 236.10,310.66 236.80,310.54 237.50,310.62 238.20,310.88 238.90,311.10 239.60,311.23 240.30,311.30 241.00,311.23 241.70,310.91 242.40,310.51 243.10,310.27 243.80,310.37 244.50,310.60 245.20,310.68 245.90,310.64 246.60,310.52 247.30,310.37 248.00,310.33 248.70,310.38 249.40,310.53 250.10,310.68 250.80,310.64 251.50,310.44 252.20,310.35 252.90,310.47 253.60,310.74 254.30,311.07 255.00,311.23 255.70,310.99 256.40,310.59 257.10,310.25 257.80,310.01 258.50,309.89 259.20,309.90 259.90,310.02 260.60,310.18 261.30,310.26 262.00,310.18 262.70,310.09 263.40,310.21 264.10,310.51 264.80,310.74 265.50,310.83 266.20,310.78 266.90,310.64 267.60,310.53 268.30,310.59 269.00,310.59 269.70,310.45 270.40,310.47 271.10,310.56 271.80,310.50 272.50,310.39 273.20,310.24 273.90,310.00 274.60,309.77 275.30,309.59 276.00,309.49 276.70,309.54 277.40,309.66 278.10,309.75 278.80,309.75 279.50,309.85 280.20,310.11 280.90,310.20 281.60,309.99 282.30,309.74 283.00,309.66 283.70,309.64 284.40,309.52 285.10,309.50 285.80,309.76 286.50,309.87 287.20,309.67 287.90,309.56 288.60,309.58 289.30,309.57 290.00,309.48 290.70,309.36 291.40,309.41 292.10,309.47 292.80,309.33 293.50,309.16 294.20,309.14 294.90,309.22 295.60,309.26 296.30,309.16 297.00,309.02 297.70,308.92 298.40,308.83 299.10,308.59 299.80,308.34 300.50,308.35 301.20,308.50 303.60,194.32 304.20,194.16 304.90,194.10 305.60,194.23 306.30,194.34 307.00,194.13 307.70,193.86 308.40,193.91 309.10,194.13 309.80,194.17 310.50,193.98 311.20,193.75 311.90,193.53 312.60,193.37 313.30,193.48 314.00,193.77 314.70,193.99 315.40,194.19 316.10,194.35 316.80,194.39 317.50,194.45 318.20,194.51 318.90,194.36 319.60,194.14 320.30,194.04 321.00,193.91 321.70,193.73 322.40,193.60 323.10,193.42 323.80,193.28 324.50,193.35 325.20,193.42 325.90,193.33 326.60,193.25 327.30,193.38 328.00,193.55 328.70,193.57 329.40,193.53 330.10,193.51 330.80,193.52 331.50,193.66 332.20,193.78 332.90,193.70 333.60,193.68 334.30,193.74 335.00,193.70 335.70,193.66 336.40,193.68 337.10,193.49 337.80,193.11 338.50,192.91 339.20,192.90 339.90,192.94 340.60,193.03 341.30,193.18 342.00,193.31 342.70,193.38 343.40,193.46 344.10,193.50 344.80,193.53 345.50,193.71 346.20,193.86 346.90,193.70 347.60,193.41 348.30,193.24 349.00,193.27 349.70,193.42 350.40,193.46 351.10,193.37 351.80,193.40 352.50,193.46 353.20,193.36 353.90,193.14 354.60,192.96 355.30,192.99 356.00,193.29 356.70,193.51 357.40,193.35 358.10,193.08 358.80,193.02 359.50,193.18 360.20,193.41 360.90,193.64 361.60,193.79 362.30,193.77 363.00,193.65 363.70,193.43 364.40,193.11 365.10,192.84 365.80,192.79 366.50,192.77 367.20,192.64 367.90,192.59 368.60,192.74 369.30,192.81 370.00,192.77 370.70,192.76 371.40,192.78 372.10,192.69 372.80,192.52 373.50,192.53 374.20,192.70 374.90,192.75 375.60,192.63 376.30,192.50 377.00,192.54 377.70,192.73 378.40,192.88 379.10,192.96 379.80,193.07 380.50,193.04 381.20,192.82 381.90,192.50 382.60,192.10 383.30,191.85 384.00,191.92 384.70,192.14 385.40,192.29 386.10,192.29 386.80,192.18 387.50,192.07 388.20,192.07 388.90,192.05 389.60,192.03 390.30,191.99 391.00,191.87 391.70,191.83 392.40,192.02 393.10,192.35 393.80,192.55 394.50,192.46 395.20,192.18 395.90,192.01 396.60,192.03 397.30,192.07 398.00,192.14 398.70,192.27 399.40,192.29 400.10,192.31 400.80,192.52 401.50,192.74 402.20,192.81 402.90,192.82 403.60,192.85 404.30,192.92 405.00,192.91 405.70,192.83 406.40,192.75 407.10,192.57 407.80,192.30 408.50,192.15 409.20,192.18 409.90,192.23 410.60,192.24 411.30,192.33 412.00,192.33 412.70,192.09 413.40,191.88 414.10,191.99 414.80,192.15 415.50,192.06 416.20,191.86 416.90,191.79 417.60,191.96 418.30,192.12 419.00,192.09 419.70,192.04 420.40,192.14 421.10,192.26 421.80,192.23 422.50,192.15 423.20,192.27 423.90,192.39 424.60,192.19 425.30,191.94 426.00,191.91 426.70,192.14 427.40,192.48 428.10,192.49 428.80,192.14 429.50,192.03 430.20,192.36 430.90,192.67 431.60,192.68 432.30,192.44 433.00,192.07 433.70,191.75 434.40,191.59 435.10,191.71 435.80,192.06 436.50,192.38 437.20,192.53 437.90,192.41 438.60,192.32 439.30,192.49 440.00,192.59 440.70,192.36 441.40,192.12 442.10,192.19 442.80,192.26 443.50,192.12 444.20,192.05 444.90,192.10 445.60,192.00 446.30,191.78 447.00,191.70 447.70,191.82 448.40,192.04 449.10,192.26 449.80,192.34 450.50,192.15 451.20,191.97 451.90,192.09 452.60,192.32 453.30,192.38 454.00,192.22 454.70,191.96 455.40,191.83 456.10,191.75 456.80,191.55 457.50,191.49 458.20,191.67 458.90,191.71 459.60,191.52 460.30,191.30 461.00,191.23 461.70,191.36 462.40,191.54 463.10,191.57 463.80,191.51 464.50,191.53 465.20,191.54 465.90,191.62 466.60,191.78 467.30,191.80 468.00,191.85 468.70,191.98 469.40,192.00 470.10,192.03 470.80,192.17 471.50,192.24 472.20,192.17 472.90,192.08 473.60,192.02 474.30,191.96 475.00,191.92 475.70,192.07 476.40,192.30 477.10,192.37 477.80,192.42 478.50,192.45 479.20,192.22 479.90,191.94 480.60,191.84 481.30,191.92 482.00,192.12 482.70,192.13 483.40,191.89 484.10,191.73 484.80,191.73 485.50,191.71 486.20,191.61 486.90,191.48 487.60,191.34 488.30,191.38 489.00,191.54 489.70,191.66 490.40,191.68 491.10,191.67 491.80,191.71 492.50,191.63 493.20,191.41 493.90,191.25 494.60,191.32 495.30,191.51 496.00,191.67 496.70,191.93 497.40,192.26 498.10,192.43 498.80,192.29 499.50,191.96 500.20,191.82 500.90,191.98 501.60,192.17 502.30,192.23 503.00,192.26 503.70,192.32 504.40,192.34 505.10,192.27 505.80,192.17 506.50,192.08 507.20,192.04 507.90,192.06 508.60,192.09 509.30,192.14 510.00,192.20 510.70,192.18 511.40,192.09 512.10,192.02 512.80,192.08 513.50,192.09 514.20,191.80 514.90,191.47 515.60,191.52 516.30,191.90 517.00,192.25 517.70,192.24 518.40,191.95 518.60,191.66" fill="none" stroke="#000" stroke-width="2.9" stroke-linejoin="round" stroke-linecap="butt"/>
<polyline points="88.40,312.63 89.10,312.65 89.80,312.76 90.50,312.97 91.20,313.05 91.90,312.94 92.60,312.94 93.30,313.01 94.00,312.87 94.70,312.71 95.40,312.77 96.10,312.84 96.80,312.84 97.50,312.80 98.20,312.68 98.90,312.64 99.60,312.76 100.30,312.83 101.00,312.81 101.70,312.89 102.40,313.11 103.10,313.25 103.80,313.15 104.50,313.00 105.20,312.88 105.90,312.86 106.60,312.98 107.30,313.11 108.00,313.06 108.70,312.81 109.40,312.57 110.10,312.55 110.80,312.74 111.50,312.96 112.20,313.06 112.90,313.09 113.60,313.09 114.30,312.95 115.00,312.54 115.70,312.10 116.40,311.95 117.10,312.16 117.80,312.47 118.50,312.65 119.20,312.82 119.90,312.99 120.60,313.04 121.30,312.87 122.00,312.60 122.70,312.43 123.40,312.38 124.10,312.35 124.80,312.35 125.50,312.43 126.20,312.41 126.90,312.22 127.60,312.11 128.30,312.18 129.00,312.34 129.70,312.47 130.40,312.44 131.10,312.30 131.80,312.21 132.50,312.25 133.20,312.30 133.90,312.22 134.60,311.95 135.30,311.70 136.00,311.84 136.70,312.26 137.40,312.53 138.10,312.46 138.80,312.25 139.50,312.26 140.20,312.53 140.90,312.64 141.60,312.38 142.30,312.06 143.00,312.08 143.70,312.51 144.40,312.88 145.10,312.87 145.80,312.65 146.50,312.38 147.20,312.19 147.90,312.09 148.60,311.99 149.30,312.02 150.00,312.21 150.70,312.34 151.40,312.29 152.10,312.08 152.80,311.81 153.50,311.68 154.20,311.67 154.90,311.59 155.60,311.45 156.30,311.39 157.00,311.34 157.70,311.25 158.40,311.24 159.10,311.46 159.80,311.87 160.50,312.21 161.20,312.20 161.90,311.94 162.60,311.85 163.30,311.97 164.00,312.04 164.70,312.11 165.40,312.13 166.10,311.88 166.80,311.58 167.50,311.56 168.20,311.72 168.90,311.72 169.60,311.59 170.30,311.64 171.00,311.86 171.70,311.97 172.40,311.96 173.10,311.94 173.80,311.79 174.50,311.60 175.20,311.60 175.90,311.63 176.60,311.47 177.30,311.38 178.00,311.63 178.70,311.97 179.40,312.03 180.10,311.96 180.80,312.01 181.50,312.06 182.20,312.17 182.90,312.27 183.60,312.16 184.30,311.88 185.00,311.66 185.70,311.55 186.40,311.45 187.10,311.62 187.80,312.10 188.50,312.37 189.20,312.27 189.90,312.15 190.60,312.27 191.30,312.40 192.00,312.23 192.70,311.80 193.40,311.39 194.10,311.10 194.80,310.91 195.50,310.96 196.20,311.17 196.90,311.35 197.60,311.54 198.30,311.86 199.00,312.15 199.70,312.17 200.40,311.99 201.10,311.78 201.80,311.59 202.50,311.51 203.20,311.46 203.90,311.30 204.60,311.18 205.30,311.26 206.00,311.52 206.70,311.67 207.40,311.54 208.10,311.31 208.80,311.09 209.50,311.03 210.20,311.32 210.90,311.83 211.60,312.05 212.30,311.82 213.00,311.53 213.70,311.46 214.40,311.50 215.10,311.55 215.80,311.56 216.50,311.51 217.20,311.38 217.90,311.14 218.60,310.88 219.30,310.72 220.00,310.69 220.70,310.75 221.40,310.84 222.10,310.95 222.80,311.05 223.50,310.99 224.20,310.80 224.90,310.74 225.60,310.97 226.30,311.37 227.00,311.61 227.70,311.54 228.40,311.36 229.10,311.22 229.80,311.10 230.50,310.99 231.20,310.79 231.90,310.86 232.60,311.27 233.30,311.37 234.00,311.09 234.70,310.89 235.40,310.81 236.10,310.66 236.80,310.54 237.50,310.62 238.20,310.88 238.90,311.10 239.60,311.23 240.30,311.30 241.00,311.23 241.70,310.91 242.40,310.51 243.10,310.27 243.80,310.37 244.50,310.60 245.20,310.68 245.90,310.64 246.60,310.52 247.30,310.37 248.00,310.33 248.70,310.38 249.40,310.53 250.10,310.68 250.80,310.64 251.50,310.44 252.20,310.35 252.90,310.47 253.60,310.74 254.30,311.07 255.00,311.23 255.70,310.99 256.40,310.59 257.10,310.25 257.80,310.01 258.50,309.89 259.20,309.90 259.90,310.02 260.60,310.18 261.30,310.26 262.00,310.18 262.70,310.09 263.40,310.21 264.10,310.51 264.80,310.74 265.50,310.83 266.20,310.78 266.90,310.64 267.60,310.53 268.30,310.59 269.00,310.59 269.70,310.45 270.40,310.47 271.10,310.56 271.80,310.50 272.50,310.39 273.20,310.24 273.90,310.00 274.60,309.77 275.30,309.59 276.00,309.49 276.70,309.54 277.40,309.66 278.10,309.75 278.80,309.75 279.50,309.85 280.20,310.11 280.90,310.20 281.60,309.99 282.30,309.74 283.00,309.66 283.70,309.64 284.40,309.52 285.10,309.50 285.80,309.76 286.50,309.87 287.20,309.67 287.90,309.56 288.60,309.58 289.30,309.57 290.00,309.48 290.70,309.36 291.40,309.41 292.10,309.47 292.80,309.33 293.50,309.16 294.20,309.14 294.90,309.22 295.60,309.26 296.30,309.16 297.00,309.02 297.70,308.92 298.40,308.83 299.10,308.59 299.80,308.34 300.50,308.35 301.20,308.50 301.90,308.70 302.60,308.77 305.00,194.12 305.60,194.23 306.30,194.34 307.00,194.13 307.70,193.86 308.40,193.91 309.10,194.13 309.80,194.17 310.50,193.98 311.20,193.75 311.90,193.53 312.60,193.37 313.30,193.48 314.00,193.77 314.70,193.99 315.40,194.19 316.10,194.35 316.80,194.39 317.50,194.45 318.20,194.51 318.90,194.36 319.60,194.14 320.30,194.04 321.00,193.91 321.70,193.73 322.40,193.60 323.10,193.42 323.80,193.28 324.50,193.35 325.20,193.42 325.90,193.33 326.60,193.25 327.30,193.38 328.00,193.55 328.70,193.57 329.40,193.53 330.10,193.51 330.80,193.52 331.50,193.66 332.20,193.78 332.90,193.70 333.60,193.68 334.30,193.74 335.00,193.70 335.70,193.66 336.40,193.68 337.10,193.49 337.80,193.11 338.50,192.91 339.20,192.90 339.90,192.94 340.60,193.03 341.30,193.18 342.00,193.31 342.70,193.38 343.40,193.46 344.10,193.50 344.80,193.53 345.50,193.71 346.20,193.86 346.90,193.70 347.60,193.41 348.30,193.24 349.00,193.27 349.70,193.42 350.40,193.46 351.10,193.37 351.80,193.40 352.50,193.46 353.20,193.36 353.90,193.14 354.60,192.96 355.30,192.99 356.00,193.29 356.70,193.51 357.40,193.35 358.10,193.08 358.80,193.02 359.50,193.18 360.20,193.41 360.90,193.64 361.60,193.79 362.30,193.77 363.00,193.65 363.70,193.43 364.40,193.11 365.10,192.84 365.80,192.79 366.50,192.77 367.20,192.64 367.90,192.59 368.60,192.74 369.30,192.81 370.00,192.77 370.70,192.76 371.40,192.78 372.10,192.69 372.80,192.52 373.50,192.53 374.20,192.70 374.90,192.75 375.60,192.63 376.30,192.50 377.00,192.54 377.70,192.73 378.40,192.88 379.10,192.96 379.80,193.07 380.50,193.04 381.20,192.82 381.90,192.50 382.60,192.10 383.30,191.85 384.00,191.92 384.70,192.14 385.40,192.29 386.10,192.29 386.80,192.18 387.50,192.07 388.20,192.07 388.90,192.05 389.60,192.03 390.30,191.99 391.00,191.87 391.70,191.83 392.40,192.02 393.10,192.35 393.80,192.55 394.50,192.46 395.20,192.18 395.90,192.01 396.60,192.03 397.30,192.07 398.00,192.14 398.70,192.27 399.40,192.29 400.10,192.31 400.80,192.52 401.50,192.74 402.20,192.81 402.90,192.82 403.60,192.85 404.30,192.92 405.00,192.91 405.70,192.83 406.40,192.75 407.10,192.57 407.80,192.30 408.50,192.15 409.20,192.18 409.90,192.23 410.60,192.24 411.30,192.33 412.00,192.33 412.70,192.09 413.40,191.88 414.10,191.99 414.80,192.15 415.50,192.06 416.20,191.86 416.90,191.79 417.60,191.96 418.30,192.12 419.00,192.09 419.70,192.04 420.40,192.14 421.10,192.26 421.80,192.23 422.50,192.15 423.20,192.27 423.90,192.39 424.60,192.19 425.30,191.94 426.00,191.91 426.70,192.14 427.40,192.48 428.10,192.49 428.80,192.14 429.50,192.03 430.20,192.36 430.90,192.67 431.60,192.68 432.30,192.44 433.00,192.07 433.70,191.75 434.40,191.59 435.10,191.71 435.80,192.06 436.50,192.38 437.20,192.53 437.90,192.41 438.60,192.32 439.30,192.49 440.00,192.59 440.70,192.36 441.40,192.12 442.10,192.19 442.80,192.26 443.50,192.12 444.20,192.05 444.90,192.10 445.60,192.00 446.30,191.78 447.00,191.70 447.70,191.82 448.40,192.04 449.10,192.26 449.80,192.34 450.50,192.15 451.20,191.97 451.90,192.09 452.60,192.32 453.30,192.38 454.00,192.22 454.70,191.96 455.40,191.83 456.10,191.75 456.80,191.55 457.50,191.49 458.20,191.67 458.90,191.71 459.60,191.52 460.30,191.30 461.00,191.23 461.70,191.36 462.40,191.54 463.10,191.57 463.80,191.51 464.50,191.53 465.20,191.54 465.90,191.62 466.60,191.78 467.30,191.80 468.00,191.85 468.70,191.98 469.40,192.00 470.10,192.03 470.80,192.17 471.50,192.24 472.20,192.17 472.90,192.08 473.60,192.02 474.30,191.96 475.00,191.92 475.70,192.07 476.40,192.30 477.10,192.37 477.80,192.42 478.50,192.45 479.20,192.22 479.90,191.94 480.60,191.84 481.30,191.92 482.00,192.12 482.70,192.13 483.40,191.89 484.10,191.73 484.80,191.73 485.50,191.71 486.20,191.61 486.90,191.48 487.60,191.34 488.30,191.38 489.00,191.54 489.70,191.66 490.40,191.68 491.10,191.67 491.80,191.71 492.50,191.63 493.20,191.41 493.90,191.25 494.60,191.32 495.30,191.51 496.00,191.67 496.70,191.93 497.40,192.26 498.10,192.43 498.80,192.29 499.50,191.96 500.20,191.82 500.90,191.98 501.60,192.17 502.30,192.23 503.00,192.26 503.70,192.32 504.40,192.34 505.10,192.27 505.80,192.17 506.50,192.08 507.20,192.04 507.90,192.06 508.60,192.09 509.30,192.14 510.00,192.20 510.70,192.18 511.40,192.09 512.10,192.02 512.80,192.08 513.50,192.09 514.20,191.80 514.90,191.47 515.60,191.52 516.30,191.90 517.00,192.25 517.70,192.24 518.40,191.95 518.60,191.66" fill="none" stroke="#000" stroke-width="2.9" stroke-linejoin="round" stroke-linecap="butt"/>
<polyline points="88.30,314.89 88.80,314.91 89.30,314.87 89.80,314.73 90.30,314.56 90.80,314.39 91.30,314.22 91.80,314.07 92.30,313.98 92.80,314.00 93.30,314.16 93.80,314.28 94.30,314.32 94.80,314.42 95.30,314.64 95.80,314.85 96.30,314.94 96.80,314.88 97.30,314.74 97.80,314.59 98.30,314.48 98.80,314.43 99.30,314.47 99.80,314.57 100.30,314.62 100.80,314.56 101.30,314.44 101.80,314.33 102.30,314.23 102.80,314.15 103.30,314.12 103.80,314.14 104.30,314.21 104.80,314.37 105.30,314.65 105.80,314.93 106.30,315.05 106.80,315.02 107.30,314.99 107.80,314.96 108.30,314.85 108.80,314.72 109.30,314.70 109.80,314.79 110.30,314.89 110.80,314.92 111.30,314.82 111.80,314.66 112.30,314.54 112.80,314.55 113.30,314.60 113.80,314.63 114.30,314.66 114.80,314.66 115.30,314.53 115.80,314.26 116.30,314.04 116.80,313.99 117.30,314.06 117.80,314.12 118.30,314.10 118.80,314.06 119.30,314.10 119.80,314.24 120.30,314.38 120.80,314.35 121.30,314.19 121.80,314.11 122.30,314.13 122.80,314.15 123.30,314.11 123.80,314.09 124.30,314.17 124.80,314.30 125.30,314.38 125.80,314.36 126.30,314.27 126.80,314.16 127.30,314.14 127.80,314.27 128.30,314.44 128.80,314.59 129.30,314.64 129.80,314.55 130.30,314.43 130.80,314.47 131.30,314.60 131.80,314.54 132.30,314.25 132.80,313.94 133.30,313.78 133.80,313.73 134.30,313.71 134.80,313.73 135.30,313.79 135.80,313.92 136.30,314.10 136.80,314.25 137.30,314.38 137.80,314.49 138.30,314.49 138.80,314.41 139.30,314.37 139.80,314.45 140.30,314.54 140.80,314.49 141.30,314.39 141.80,314.43 142.30,314.64 142.80,314.87 143.30,314.95 143.80,314.79 144.30,314.46 144.80,314.19 145.30,314.15 145.80,314.36 146.30,314.63 146.80,314.66 147.30,314.35 147.80,313.97 148.30,313.78 148.80,313.76 149.30,313.77 149.80,313.84 150.30,313.98 150.80,314.09 151.30,314.13 151.80,314.13 152.30,314.10 152.80,313.99 153.30,313.84 153.80,313.76 154.30,313.80 154.80,313.88 155.30,313.97 155.80,314.09 156.30,314.20 156.80,314.23 157.30,314.24 157.80,314.34 158.30,314.48 158.80,314.46 159.30,314.21 159.80,314.01 160.30,314.11 160.80,314.46 161.30,314.73 161.80,314.75 162.30,314.57 162.80,314.35 163.30,314.21 163.80,314.15 164.30,314.14 164.80,314.19 165.30,314.28 165.80,314.23 166.30,314.02 166.80,313.83 167.30,313.73 167.80,313.69 168.30,313.76 168.80,313.98 169.30,314.25 169.80,314.46 170.30,314.52 170.80,314.39 171.30,314.14 171.80,313.94 172.30,313.85 172.80,313.88 173.30,313.98 173.80,314.14 174.30,314.37 174.80,314.62 175.30,314.76 175.80,314.76 176.30,314.73 176.80,314.73 177.30,314.73 177.80,314.66 178.30,314.46 178.80,314.15 179.30,313.90 179.80,313.84 180.30,314.02 180.80,314.26 181.30,314.34 181.80,314.22 182.30,314.03 182.80,313.84 183.30,313.70 183.80,313.63 184.30,313.62 184.80,313.68 185.30,313.77 185.80,313.80 186.30,313.74 186.80,313.73 187.30,313.87 187.80,314.11 188.30,314.30 188.80,314.37 189.30,314.31 189.80,314.19 190.30,314.20 190.80,314.33 191.30,314.38 191.80,314.31 192.30,314.31 192.80,314.45 193.30,314.58 193.80,314.56 194.30,314.39 194.80,314.23 195.30,314.15 195.80,314.05 196.30,313.83 196.80,313.69 197.30,313.82 197.80,314.12 198.30,314.33 198.80,314.37 199.30,314.39 199.80,314.49 200.30,314.56 200.80,314.55 201.30,314.46 201.80,314.32 202.30,314.17 202.80,314.05 203.30,313.98 203.80,313.99 204.30,314.04 204.80,314.14 205.30,314.25 205.80,314.24 206.30,314.10 206.80,313.99 207.30,314.03 207.80,314.18 208.30,314.31 208.80,314.33 209.30,314.22 209.80,314.03 210.30,313.87 210.80,313.84 211.30,313.93 211.80,314.05 212.30,314.11 212.80,314.05 213.30,313.80 213.80,313.54 214.30,313.53 214.80,313.84 215.30,314.23 215.80,314.41 216.30,314.30 216.80,314.12 217.30,314.08 217.80,314.17 218.30,314.26 218.80,314.26 219.30,314.19 219.80,314.11 220.30,314.09 220.80,314.14 221.30,314.16 221.80,314.02 222.30,313.78 222.80,313.64 223.30,313.68 223.80,313.81 224.30,313.88 224.80,313.91 225.30,314.00 225.80,314.15 226.30,314.28 226.81,314.39 227.31,314.45 227.81,314.44 228.31,314.40 228.81,314.31 229.30,314.13 229.80,313.94 230.30,313.80 230.80,313.65 231.29,313.41 231.79,313.18 232.29,313.09 232.79,313.18 233.29,313.35 233.79,313.51 234.30,313.66 234.80,313.77 235.30,313.74 235.79,313.54 236.29,313.31 236.78,313.15 237.28,313.13 237.78,313.20 238.29,313.25 238.78,313.22 239.28,313.15 239.78,313.19 240.29,313.40 240.80,313.69 241.31,313.84 241.80,313.67 242.28,313.24 242.76,312.82 243.25,312.65 243.75,312.74 244.26,312.94 244.77,313.07 245.27,313.13 245.78,313.19 246.29,313.27 246.79,313.25 247.27,313.09 247.76,312.90 248.24,312.78 248.73,312.64 249.19,312.40 249.65,312.15 250.14,312.08 250.68,312.28 251.24,312.61 251.79,312.79 252.28,312.68 252.74,312.42 253.18,312.12 253.63,311.84 254.10,311.67 254.60,311.62 255.11,311.61 255.61,311.52 256.08,311.36 256.56,311.22 257.05,311.13 257.55,311.06 258.06,311.03 258.57,310.98 259.06,310.86 259.52,310.65 259.97,310.44 260.48,310.38 261.05,310.50 261.61,310.56 262.06,310.32 262.41,309.81 262.74,309.27 263.11,308.88 263.56,308.67 264.05,308.55 264.52,308.38 264.92,308.08 265.29,307.72 265.70,307.43 266.16,307.26 266.65,307.12 267.13,306.96 267.60,306.79 268.03,306.53 268.38,306.16 268.77,305.85 269.31,305.76 269.93,305.76 270.43,305.59 270.74,305.16 270.99,304.67 271.33,304.30 271.77,304.04 272.26,303.85 272.76,303.65 273.19,303.38 273.56,303.03 273.91,302.67 274.26,302.30 274.56,301.89 274.81,301.43 275.05,300.96 275.29,300.50 275.56,300.06 275.83,299.63 276.08,299.18 276.33,298.73 276.71,298.41 277.31,298.29 278.01,298.25 278.58,298.09 278.91,297.72 279.08,297.20 279.22,296.65 279.41,296.14 279.62,295.65 279.87,295.20 280.19,294.81 280.57,294.47 280.95,294.15 281.36,293.85 281.81,293.59 282.27,293.34 282.67,293.04 283.00,292.66 283.28,292.24 283.58,291.82 283.88,291.42 284.24,291.08 284.69,290.82 285.18,290.59 285.57,290.28 285.81,289.81 285.97,289.28 286.22,288.82 286.58,288.48 286.97,288.16 287.36,287.84 287.75,287.52 288.14,287.20 288.50,286.85 288.89,286.52 289.31,286.22 289.67,285.87 289.94,285.45 290.20,285.01 290.49,284.60 290.76,284.18 290.96,283.70 291.15,283.21 291.40,282.78 291.74,282.42 292.11,282.07 292.39,281.66 292.50,281.13 292.49,280.52 292.58,279.99 292.91,279.62 293.45,279.38 294.03,279.16 294.51,278.87 294.79,278.45 294.93,277.96 295.07,277.46 295.23,276.98 295.41,276.52 295.66,276.09 296.03,275.72 296.44,275.36 296.78,274.97 296.99,274.52 297.13,274.03 297.29,273.55 297.53,273.11 297.79,272.68 297.99,272.22 298.08,271.71 298.17,271.21 298.39,270.76 298.69,270.34 298.96,269.91 299.24,269.48 299.54,269.06 299.78,268.61 299.94,268.13 300.13,267.67 300.32,267.20 300.38,266.69 300.27,266.12 300.09,265.54 300.02,264.99 300.18,264.52 300.48,264.09 300.69,263.63 300.70,263.12 300.64,262.58 300.69,262.08 300.93,261.63 301.38,261.24 301.98,260.88 302.51,260.50 302.73,260.03 302.50,259.46 302.02,258.83 301.59,258.21 301.51,257.68 301.85,257.24 302.42,256.87 302.92,256.47 303.22,256.03 303.38,255.56 303.49,255.07 303.57,254.58 303.53,254.05 303.41,253.51 303.41,252.99 303.68,252.54 304.08,252.12 304.32,251.66 304.28,251.14 304.16,250.60 304.15,250.09 304.26,249.60 304.41,249.12 304.56,248.64 304.72,248.17 304.87,247.69 304.98,247.20 305.04,246.70 305.05,246.20 305.12,245.70 305.26,245.22 305.43,244.74 305.53,244.26 305.55,243.74 305.56,243.23 305.66,242.73 305.86,242.27 306.09,241.82 306.25,241.34 306.27,240.82 306.23,240.28 306.27,239.76 306.44,239.28 306.70,238.84 307.03,238.43 307.39,238.03 307.69,237.61 307.90,237.16 308.06,236.68 308.22,236.21 308.42,235.75 308.68,235.32 308.92,234.88 309.07,234.39 309.18,233.89 309.37,233.43 309.66,233.01 309.95,232.60 310.23,232.18 310.59,231.81 311.04,231.48 311.40,231.11 311.54,230.63 311.53,230.05 311.51,229.46 311.61,228.93 311.93,228.53 312.37,228.22 312.76,227.87 313.00,227.44 313.19,226.96 313.44,226.52 313.72,226.11 313.97,225.67 314.22,225.23 314.56,224.86 315.07,224.62 315.66,224.44 316.16,224.20 316.50,223.84 316.80,223.44 317.15,223.08 317.52,222.74 317.82,222.34 318.00,221.85 318.15,221.32 318.34,220.84 318.59,220.40 318.82,219.94 318.96,219.40 319.03,218.81 319.16,218.26 319.43,217.84 319.85,217.53 320.32,217.28 320.77,217.00 321.23,216.74 321.75,216.52 322.29,216.33 322.78,216.10 323.18,215.78 323.45,215.36 323.66,214.88 323.93,214.45 324.26,214.08 324.56,213.68 324.78,213.20 324.93,212.66 325.11,212.14 325.37,211.70 325.68,211.30 326.01,210.92 326.36,210.57 326.80,210.29 327.27,210.05 327.66,209.73 327.90,209.27 328.13,208.79 328.45,208.40 328.89,208.13 329.37,207.91 329.84,207.67 330.28,207.40 330.66,207.07 331.01,206.71 331.38,206.37 331.76,206.05 332.16,205.75 332.55,205.43 332.91,205.08 333.24,204.71 333.61,204.37 334.04,204.09 334.47,203.82 334.85,203.49 335.19,203.12 335.51,202.74 335.81,202.34 336.06,201.88 336.28,201.38 336.55,200.94 336.92,200.60 337.26,200.24 337.58,199.85 337.98,199.54 338.49,199.35 338.96,199.12 339.29,198.75 339.58,198.32 339.95,197.99 340.36,197.71 340.69,197.32 340.91,196.80 341.18,196.32 341.58,196.00 342.02,195.74 342.44,195.47 342.92,195.28 343.46,195.20 343.97,195.09 344.44,194.92 344.93,194.80 345.45,194.78 345.95,194.73 346.39,194.55 346.82,194.31 347.25,194.09 347.69,193.85 348.13,193.60 348.59,193.34 349.06,193.15 349.55,193.10 350.06,193.12 350.55,193.04 351.03,192.82 351.50,192.55 351.99,192.31 352.48,192.22 353.00,192.31 353.52,192.52 354.04,192.72 354.54,192.83 355.04,192.82 355.54,192.74 356.03,192.61 356.52,192.47 357.02,192.42 357.53,192.49 358.03,192.58 358.53,192.54 359.02,192.36 359.52,192.20 360.02,192.16 360.52,192.23 361.02,192.30 361.52,192.33 362.03,192.38 362.53,192.47 363.03,192.51 363.53,192.48 364.03,192.40 364.52,192.28 365.02,192.15 365.52,192.04 366.02,192.00 366.52,192.11 367.03,192.37 367.54,192.63 368.04,192.74 368.54,192.69 369.04,192.59 369.53,192.52 370.03,192.51 370.53,192.58 371.04,192.66 371.54,192.61 372.03,192.40 372.52,192.16 373.02,191.98 373.51,191.76 374.01,191.55 374.51,191.56 375.02,191.86 375.53,192.25 376.03,192.50 376.53,192.59 377.03,192.52 377.53,192.33 378.02,192.10 378.52,191.94 379.02,191.91 379.52,191.92 380.02,191.83 380.51,191.71 381.01,191.63 381.51,191.61 382.01,191.58 382.51,191.50 383.01,191.38 383.51,191.32 384.01,191.41 384.51,191.57 385.01,191.66 385.52,191.74 386.02,191.77 386.52,191.69 387.01,191.57 387.51,191.55 388.01,191.61 388.51,191.62 389.01,191.57 389.52,191.63 390.02,191.81 390.52,191.91 391.02,191.85 391.52,191.74 392.02,191.70 392.52,191.67 393.01,191.58 393.51,191.45 394.01,191.35 394.51,191.30 395.01,191.30 395.51,191.36 396.01,191.40 396.51,191.38 397.01,191.31 397.51,191.29 398.01,191.39 398.51,191.55 399.02,191.59 399.51,191.45 400.01,191.23 400.51,191.19 401.01,191.44 401.52,191.78 402.02,191.94 402.52,191.81 403.02,191.56 403.51,191.35 404.01,191.30 404.51,191.47 405.02,191.75 405.52,191.92 406.02,191.98 406.52,192.01 407.02,191.99 407.52,191.84 408.02,191.56 408.51,191.33 409.01,191.36 409.52,191.61 410.02,191.79 410.52,191.75 411.02,191.58 411.52,191.48 412.02,191.52 412.52,191.65 413.02,191.73 413.52,191.73 414.02,191.72 414.52,191.69 415.02,191.60 415.52,191.47 416.01,191.43 416.52,191.52 417.02,191.59 417.52,191.55 418.02,191.51 418.52,191.53 419.02,191.48 419.51,191.27 420.01,191.02 420.51,190.85 421.01,190.81 421.51,190.91 422.01,191.15 422.52,191.49 423.02,191.85 423.52,192.03 424.02,191.87 424.51,191.44 425.01,191.00 425.51,190.69 426.01,190.55 426.51,190.51 427.01,190.53 427.51,190.55 428.01,190.52 428.51,190.44 429.00,190.42 429.51,190.59 430.01,190.92 430.51,191.24 431.01,191.42 431.51,191.41 432.01,191.29 432.51,191.23 433.01,191.32 433.51,191.46 434.01,191.41 434.51,191.12 435.01,190.80 435.51,190.60 436.01,190.55 436.51,190.68 437.01,190.88 437.51,191.00 438.01,191.02 438.51,190.97 439.01,190.89 439.51,190.81 440.01,190.76 440.51,190.78 441.01,190.89 441.51,191.07 442.01,191.24 442.51,191.31 443.01,191.23 443.51,191.02 444.01,190.76 444.51,190.58 445.01,190.57 445.51,190.70 446.01,190.83 446.51,190.89 447.01,190.91 447.51,190.93 448.01,190.96 448.51,190.97 449.01,190.94 449.51,190.96 450.01,191.02 450.51,190.94 451.01,190.65 451.51,190.33 452.00,190.19 452.51,190.28 453.01,190.45 453.51,190.55 454.01,190.62 454.51,190.78 455.01,190.93 455.51,191.00 456.01,191.05 456.51,191.09 457.01,191.02 457.51,190.76 458.01,190.44 458.51,190.23 459.01,190.23 459.51,190.42 460.01,190.67 460.51,190.88 461.01,190.96 461.51,190.86 462.01,190.59 462.51,190.26 463.00,190.06 463.50,190.06 464.01,190.16 464.51,190.23 465.01,190.24 465.51,190.23 466.01,190.30 466.51,190.45 467.01,190.58 467.51,190.65 468.01,190.66 468.51,190.64 469.01,190.70 469.51,190.88 470.01,191.09 470.51,191.23 471.01,191.36 471.51,191.43 472.01,191.39 472.51,191.28 473.01,191.17 473.51,191.02 474.01,190.87 474.51,190.80 475.01,190.83 475.51,190.86 476.01,190.86 476.51,190.79 477.01,190.69 477.51,190.70 478.01,190.85 478.51,190.99 479.01,191.00 479.51,190.98 480.01,191.04 480.51,191.09 481.01,190.99 481.51,190.75 482.01,190.50 482.51,190.32 483.01,190.27 483.51,190.38 484.01,190.54 484.51,190.64 485.01,190.75 485.51,190.93 486.01,191.03 486.51,190.96 487.01,190.81 487.51,190.73 488.01,190.68 488.51,190.65 489.01,190.69 489.51,190.74 490.01,190.57 490.51,190.14 491.01,189.77 491.51,189.73 492.01,189.99 492.51,190.32 493.01,190.51 493.51,190.52 494.01,190.45 494.51,190.39 495.01,190.41 495.51,190.58 496.01,190.87 496.51,191.05 497.01,190.91 497.51,190.53 498.01,190.19 498.51,189.99 499.01,189.96 499.51,190.07 500.01,190.26 500.51,190.38 501.01,190.30 501.51,190.11 502.01,190.00 502.51,190.08 503.01,190.31 503.51,190.56 504.01,190.73 504.51,190.80 505.01,190.77 505.51,190.59 506.01,190.31 506.51,190.13 507.01,190.26 507.51,190.62 508.01,190.90 508.51,190.94 509.01,190.79 509.51,190.59 510.01,190.50 510.51,190.55 511.01,190.66 511.51,190.69 512.01,190.64 512.51,190.63 513.01,190.66 513.51,190.72 514.01,190.80 514.51,190.91 515.01,190.99 515.51,191.06 516.01,191.10 516.51,191.03 517.01,190.82 517.51,190.55 518.01,190.35" fill="none" stroke="#f00" stroke-width="3.3" stroke-linejoin="round" stroke-linecap="butt"/>
</g>
<g id="legend">
<line x1="364.4" y1="112.5" x2="413.8" y2="112.5" stroke="#000" stroke-width="2.9"/>
<line x1="364.4" y1="140.0" x2="413.8" y2="140.0" stroke="#f00" stroke-width="2.5"/>
<line x1="362.2" y1="282.8" x2="412.2" y2="282.8" stroke="#000" stroke-width="2.9"/>
<line x1="362.2" y1="310.4" x2="412.2" y2="310.4" stroke="#f00" stroke-width="2.5"/>
</g>
<g id="labels">
<text transform="translate(80.60,161.65) scale(1.000,1.040)" font-size="22" text-anchor="end">-1000</text>
<text transform="translate(80.60,127.03) scale(1.000,1.040)" font-size="22" text-anchor="end">-500</text>
<text transform="translate(80.60,92.40) scale(1.000,1.040)" font-size="22" text-anchor="end">0</text>
<text transform="translate(80.60,57.77) scale(1.000,1.040)" font-size="22" text-anchor="end">500</text>
<text transform="translate(80.60,23.15) scale(1.000,1.040)" font-size="22" text-anchor="end">1000</text>
<text transform="translate(80.60,329.49) scale(1.000,1.040)" font-size="22" text-anchor="end">-600</text>
<text transform="translate(80.60,293.97) scale(1.000,1.040)" font-size="22" text-anchor="end">-300</text>
<text transform="translate(80.60,258.45) scale(1.000,1.040)" font-size="22" text-anchor="end">0</text>
<text transform="translate(80.60,222.93) scale(1.000,1.040)" font-size="22" text-anchor="end">300</text>
<text transform="translate(80.60,187.41) scale(1.000,1.040)" font-size="22" text-anchor="end">600</text>
<text transform="translate(131.32,368.10) scale(1.000,1.040)" font-size="22" text-anchor="middle">-4</text>
<text transform="translate(217.36,368.10) scale(1.000,1.040)" font-size="22" text-anchor="middle">-2</text>
<text transform="translate(303.40,368.10) scale(1.000,1.040)" font-size="22" text-anchor="middle">0</text>
<text transform="translate(389.44,368.10) scale(1.000,1.040)" font-size="22" text-anchor="middle">2</text>
<text transform="translate(475.48,368.10) scale(1.000,1.040)" font-size="22" text-anchor="middle">4</text>
<text transform="translate(300.30,395.40) scale(1.000,0.960)" font-size="23.6" text-anchor="middle">H (kOe)</text>
<text transform="translate(20.90,88.60) rotate(-90) scale(1.000,1.020)" font-size="24.6" text-anchor="middle">M (emu/cc)</text>
<text transform="translate(20.90,243.60) rotate(-90) scale(1.000,1.020)" font-size="24.6" text-anchor="middle">M (emu/cc)</text>
<text transform="translate(103.60,31.00)" font-size="24.3">(a)</text>
<text transform="translate(99.80,280.40) scale(1.000,1.036)" font-size="25.1">(b)</text>
<text transform="translate(203.85,44.20) scale(1.047,1.010)" font-size="21" text-anchor="middle">baseline</text>
<text transform="translate(203.70,71.90) scale(1.047,1.010)" font-size="21" text-anchor="middle">CoFeB 1.2 nm</text>
<text transform="translate(191.90,200.60) scale(1.045,1.010)" font-size="21" text-anchor="middle">0.4 nm Ta inserted</text>
<text transform="translate(191.50,227.20) scale(1.030,1.030)" font-size="21" text-anchor="middle">CoFeB 2.2 nm</text>
<text transform="translate(392.20,66.90) scale(1.030,1.000)" font-size="21">H-Perp</text>
<text transform="translate(392.20,236.00) scale(1.030,1.000)" font-size="21">H-Perp</text>
<text transform="translate(419.00,119.20) scale(1.045,1.000)" font-size="21">250 C</text>
<text transform="translate(419.00,146.90) scale(1.045,1.000)" font-size="21">300 C</text>
<text transform="translate(417.20,289.90) scale(1.045,1.000)" font-size="21">250 C</text>
<text transform="translate(417.20,316.90) scale(1.045,1.000)" font-size="21">300 C</text>
</g>
</svg>
</body></html>
